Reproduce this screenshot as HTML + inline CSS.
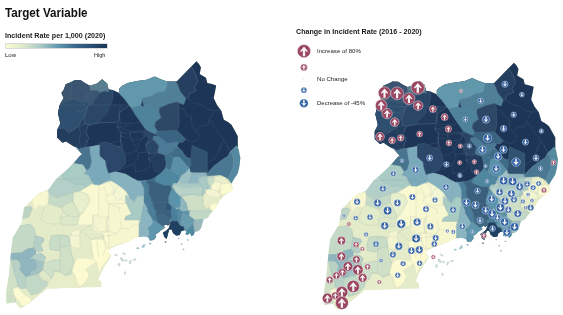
<!DOCTYPE html>
<html><head><meta charset="utf-8"><title>Target Variable</title>
<style>
html,body{margin:0;padding:0;background:#fff;}
body{width:563px;height:315px;overflow:hidden;position:relative;font-family:"Liberation Sans",sans-serif;color:#1a1a1a;}
.t{position:absolute;white-space:nowrap;line-height:1;transform-origin:0 0;}
#h1{left:5.4px;top:6.84px;font-size:12px;font-weight:bold;color:#111;transform:scaleX(0.97);}
#h2{left:5.4px;top:32.47px;font-size:7px;font-weight:bold;color:#1a1a1a;transform:scaleX(1.02);}
#h3{left:296.2px;top:28.47px;font-size:7px;font-weight:bold;color:#1a1a1a;transform:scaleX(1.016);}
.s{font-size:6.2px;color:#222;transform:scaleX(0.98);}
#bar{position:absolute;left:5.7px;top:44.3px;width:101px;height:3.9px;background:linear-gradient(90deg,#fdfcd3 0%,#d9e7c9 18%,#a5c8c4 35%,#5f97ac 52%,#37658a 70%,#1d3557 100%);box-shadow:0 0 0 0.6px #c4c4c4;}
svg{position:absolute;left:0;top:0;}
.ln{fill:none;stroke:#8a9aa6;stroke-opacity:0.38;stroke-width:0.4;stroke-linejoin:round;}
</style></head><body>
<div class="t" id="h1">Target Variable</div>
<div class="t" id="h2">Incident Rate per 1,000 (2020)</div>
<div id="bar"></div>
<div class="t s" style="left:5.4px;top:52.15px;transform:scaleX(0.97)">Low</div>
<div class="t s" style="left:93.6px;top:52.15px;transform:scaleX(0.9)">High</div>
<div class="t" id="h3">Change in Incident Rate (2016 - 2020)</div>
<div class="t s" style="left:317.4px;top:47.85px">Increase of 80%</div>
<div class="t s" style="left:317.4px;top:76.2px">No Change</div>
<div class="t s" style="left:317.4px;top:100.05px;transform:scaleX(0.97)">Decrease of -45%</div>
<svg width="563" height="315" viewBox="0 0 563 315">
<defs>
<clipPath id="cp"><polygon points="57.9,112.9 60.0,104.3 63.6,97.9 61.4,92.9 63.6,90.0 65.7,84.3 71.4,82.1 75.0,80.0 80.7,80.3 85.7,83.6 90.0,85.7 97.1,83.6 102.1,79.3 107.1,83.6 108.6,89.3 112.9,90.0 119.3,92.9 119.3,88.6 122.0,86.0 127.7,82.9 137.0,81.0 146.7,79.8 154.8,76.5 160.0,79.0 167.0,81.6 176.8,81.6 196.4,61.3 199.0,64.0 201.0,67.6 199.7,74.0 203.0,76.0 206.0,77.8 207.3,82.9 212.0,84.0 216.2,85.4 215.0,92.0 213.7,98.1 217.0,105.0 221.3,110.8 223.8,119.7 228.0,122.0 231.5,124.8 235.0,131.0 237.8,136.2 237.8,145.2 240.4,158.0 239.5,166.0 237.8,173.2 234.0,179.0 231.5,183.4 232.7,189.7 228.0,193.0 223.8,196.0 219.0,201.0 218.8,202.5 215.0,209.0 210.7,213.0 207.8,217.6 203.4,219.5 202.2,223.2 200.9,228.2 198.5,230.7 194.7,231.9 193.5,235.0 191.6,236.3 189.8,233.1 187.9,235.0 185.4,234.4 186.6,230.7 184.2,230.0 181.1,231.3 179.8,235.0 176.1,235.6 173.0,233.1 171.7,229.4 169.2,229.4 168.0,233.8 166.7,238.7 164.3,236.9 163.0,232.5 166.1,230.7 168.6,228.4 170.5,223.2 168.0,225.7 166.1,224.4 163.6,225.7 164.9,227.5 163.0,229.4 160.5,230.7 158.7,233.1 155.5,234.4 156.2,236.9 153.7,240.0 150.0,240.6 148.7,237.5 143.7,236.3 140.0,236.9 138.7,236.6 134.4,238.3 129.3,240.9 122.4,243.4 115.6,246.0 110.4,248.6 107.9,251.2 111.3,255.4 108.7,260.6 104.4,266.6 101.0,272.6 98.4,279.5 101.4,282.1 101.4,287.1 47.0,288.4 38.1,296.0 30.5,302.3 20.3,308.7 15.2,302.3 6.4,303.6 6.4,290.9 8.9,275.6 10.2,260.4 11.4,248.3 12.7,238.1 21.6,222.9 24.1,207.6 31.8,200.0 38.1,193.5 48.3,189.7 55.9,179.5 66.0,170.6 73.7,163.0 81.3,154.1 76.2,147.8 69.9,144.0 66.0,141.4 62.2,142.7 57.2,137.6 57.2,130.0 60.3,123.5"/></clipPath>
<g id="map">
<g clip-path="url(#cp)">
<rect x="0" y="55" width="250" height="260" fill="#e4ebc9"/>
<polygon fill="#1d3557" stroke="#1d3557" stroke-width="0.7" stroke-linejoin="round" points="40.0,50.0 250.0,50.0 250.0,146.0 236.4,146.4 230.0,152.1 227.9,156.4 222.1,160.0 213.6,166.4 207.9,172.9 190.0,172.1 191.4,163.6 186.4,157.1 180.7,150.7 176.4,145.0 175.7,148.6 170.0,153.6 165.0,155.7 163.6,164.3 167.1,171.4 163.6,173.6 157.1,176.4 152.9,180.7 145.7,180.0 138.6,181.4 132.9,178.6 125.7,174.3 114.3,171.4 108.6,172.9 108.6,167.1 105.7,159.3 100.0,155.7 100.0,145.0 87.1,147.1 79.3,149.3 75.7,146.4 40.0,146.0"/><polygon class="ln" points="40.0,50.0 250.0,50.0 250.0,146.0 236.4,146.4 230.0,152.1 227.9,156.4 222.1,160.0 213.6,166.4 207.9,172.9 190.0,172.1 191.4,163.6 186.4,157.1 180.7,150.7 176.4,145.0 175.7,148.6 170.0,153.6 165.0,155.7 163.6,164.3 167.1,171.4 163.6,173.6 157.1,176.4 152.9,180.7 145.7,180.0 138.6,181.4 132.9,178.6 125.7,174.3 114.3,171.4 108.6,172.9 108.6,167.1 105.7,159.3 100.0,155.7 100.0,145.0 87.1,147.1 79.3,149.3 75.7,146.4 40.0,146.0"/>
<polygon fill="#5a8fa5" stroke="#5a8fa5" stroke-width="0.7" stroke-linejoin="round" points="165.0,197.0 175.0,197.0 175.0,208.0 165.0,208.0"/><polygon class="ln" points="165.0,197.0 175.0,197.0 175.0,208.0 165.0,208.0"/>
<polygon fill="#3d5670" stroke="#3d5670" stroke-width="0.7" stroke-linejoin="round" points="55.7,78.6 71.4,78.6 71.4,84.3 70.7,100.0 64.3,102.1 58.6,107.1 55.7,98.6"/><polygon class="ln" points="55.7,78.6 71.4,78.6 71.4,84.3 70.7,100.0 64.3,102.1 58.6,107.1 55.7,98.6"/>
<polygon fill="#3a5472" stroke="#3a5472" stroke-width="0.7" stroke-linejoin="round" points="71.4,78.6 80.7,78.6 85.7,82.9 90.0,85.7 90.7,90.7 87.1,94.3 86.4,100.7 80.7,102.1 75.0,99.3 70.7,100.0 71.4,84.3"/><polygon class="ln" points="71.4,78.6 80.7,78.6 85.7,82.9 90.0,85.7 90.7,90.7 87.1,94.3 86.4,100.7 80.7,102.1 75.0,99.3 70.7,100.0 71.4,84.3"/>
<polygon fill="#587d8f" stroke="#587d8f" stroke-width="0.7" stroke-linejoin="round" points="90.0,86.0 97.1,82.9 102.1,78.6 107.4,82.9 108.6,92.1 104.3,91.4 100.0,92.9 97.1,90.7 90.7,90.7"/><polygon class="ln" points="90.0,86.0 97.1,82.9 102.1,78.6 107.4,82.9 108.6,92.1 104.3,91.4 100.0,92.9 97.1,90.7 90.7,90.7"/>
<polygon fill="#3b5673" stroke="#3b5673" stroke-width="0.7" stroke-linejoin="round" points="90.7,90.7 97.1,90.7 100.0,92.9 95.7,98.6 91.4,105.7 88.6,105.0 86.4,100.7 87.1,94.3"/><polygon class="ln" points="90.7,90.7 97.1,90.7 100.0,92.9 95.7,98.6 91.4,105.7 88.6,105.0 86.4,100.7 87.1,94.3"/>
<polygon fill="#2a4768" stroke="#2a4768" stroke-width="0.7" stroke-linejoin="round" points="100.0,92.9 104.3,91.4 108.6,92.1 112.9,90.0 112.9,98.6 110.0,107.1 107.1,115.0 88.6,115.0 90.0,108.6 82.9,107.1 86.4,100.7 88.6,105.0 91.4,105.7 95.7,98.6"/><polygon class="ln" points="100.0,92.9 104.3,91.4 108.6,92.1 112.9,90.0 112.9,98.6 110.0,107.1 107.1,115.0 88.6,115.0 90.0,108.6 82.9,107.1 86.4,100.7 88.6,105.0 91.4,105.7 95.7,98.6"/>
<polygon fill="#2f4f6f" stroke="#2f4f6f" stroke-width="0.7" stroke-linejoin="round" points="55.7,107.1 58.6,107.1 64.3,102.1 70.7,100.0 75.0,99.3 80.7,102.1 86.4,100.7 82.9,107.1 90.0,108.6 88.6,115.0 55.7,115.0"/><polygon class="ln" points="55.7,107.1 58.6,107.1 64.3,102.1 70.7,100.0 75.0,99.3 80.7,102.1 86.4,100.7 82.9,107.1 90.0,108.6 88.6,115.0 55.7,115.0"/>
<polygon fill="#2f4f70" stroke="#2f4f70" stroke-width="0.7" stroke-linejoin="round" points="55.7,105.0 88.6,105.0 84.3,116.4 78.6,126.4 68.6,132.9 64.3,127.9 58.6,128.6 55.7,128.6"/><polygon class="ln" points="55.7,105.0 88.6,105.0 84.3,116.4 78.6,126.4 68.6,132.9 64.3,127.9 58.6,128.6 55.7,128.6"/>
<polygon fill="#2a4768" stroke="#2a4768" stroke-width="0.7" stroke-linejoin="round" points="88.6,105.0 110.0,105.0 107.1,113.6 104.3,115.7 98.6,122.9 88.6,125.0 84.3,123.6 84.3,116.4"/><polygon class="ln" points="88.6,105.0 110.0,105.0 107.1,113.6 104.3,115.7 98.6,122.9 88.6,125.0 84.3,123.6 84.3,116.4"/>
<polygon fill="#233d5f" stroke="#233d5f" stroke-width="0.7" stroke-linejoin="round" points="55.7,128.6 64.3,127.9 68.6,132.9 78.6,126.4 84.3,123.6 88.6,125.0 85.7,132.1 88.6,137.9 85.7,146.4 80.7,147.9 73.6,146.4 66.4,140.7 63.6,142.9 60.7,139.3 55.7,138.6"/><polygon class="ln" points="55.7,128.6 64.3,127.9 68.6,132.9 78.6,126.4 84.3,123.6 88.6,125.0 85.7,132.1 88.6,137.9 85.7,146.4 80.7,147.9 73.6,146.4 66.4,140.7 63.6,142.9 60.7,139.3 55.7,138.6"/>
<polygon fill="#223b5d" stroke="#223b5d" stroke-width="0.7" stroke-linejoin="round" points="110.0,105.0 130.0,105.0 120.0,112.1 118.6,122.1 98.6,122.9 104.3,115.7 107.1,113.6"/><polygon class="ln" points="110.0,105.0 130.0,105.0 120.0,112.1 118.6,122.1 98.6,122.9 104.3,115.7 107.1,113.6"/>
<polygon fill="#6298ab" stroke="#6298ab" stroke-width="0.7" stroke-linejoin="round" points="119.3,88.6 118.0,84.0 127.9,80.0 142.9,78.0 150.0,76.0 155.0,73.0 160.7,78.0 167.9,82.1 167.1,87.9 165.0,91.4 157.1,92.9 151.4,96.4 142.1,98.6 140.7,105.7 131.4,107.9 124.3,98.6 119.0,93.0"/><polygon class="ln" points="119.3,88.6 118.0,84.0 127.9,80.0 142.9,78.0 150.0,76.0 155.0,73.0 160.7,78.0 167.9,82.1 167.1,87.9 165.0,91.4 157.1,92.9 151.4,96.4 142.1,98.6 140.7,105.7 131.4,107.9 124.3,98.6 119.0,93.0"/>
<polygon fill="#4f8098" stroke="#4f8098" stroke-width="0.7" stroke-linejoin="round" points="167.9,80.0 175.7,80.0 180.0,91.4 185.7,98.6 183.6,104.3 177.1,102.1 168.6,104.3 160.0,107.9 159.3,111.4 151.4,104.3 144.3,107.1 142.1,98.6 151.4,96.4 157.1,92.9 165.0,91.4 167.1,87.9"/><polygon class="ln" points="167.9,80.0 175.7,80.0 180.0,91.4 185.7,98.6 183.6,104.3 177.1,102.1 168.6,104.3 160.0,107.9 159.3,111.4 151.4,104.3 144.3,107.1 142.1,98.6 151.4,96.4 157.1,92.9 165.0,91.4 167.1,87.9"/>
<polygon fill="#4f829b" stroke="#4f829b" stroke-width="0.7" stroke-linejoin="round" points="131.4,107.9 140.7,105.7 144.3,107.1 151.4,104.3 159.3,111.4 161.4,117.9 155.7,122.1 155.0,126.4 157.9,131.4 155.0,134.3 151.4,132.9 145.7,129.3 140.7,122.1 135.7,115.0"/><polygon class="ln" points="131.4,107.9 140.7,105.7 144.3,107.1 151.4,104.3 159.3,111.4 161.4,117.9 155.7,122.1 155.0,126.4 157.9,131.4 155.0,134.3 151.4,132.9 145.7,129.3 140.7,122.1 135.7,115.0"/>
<polygon fill="#2d4866" stroke="#2d4866" stroke-width="0.7" stroke-linejoin="round" points="160.0,107.9 168.6,104.3 177.1,102.1 178.6,105.0 179.3,123.6 177.1,130.7 157.9,131.4 155.0,126.4 155.7,122.1 161.4,117.9 159.3,111.4"/><polygon class="ln" points="160.0,107.9 168.6,104.3 177.1,102.1 178.6,105.0 179.3,123.6 177.1,130.7 157.9,131.4 155.0,126.4 155.7,122.1 161.4,117.9 159.3,111.4"/>
<polygon fill="#3a6482" stroke="#3a6482" stroke-width="0.7" stroke-linejoin="round" points="157.9,131.4 177.1,130.7 185.7,139.3 182.9,142.1 172.9,142.9 167.1,143.6 158.6,136.4 155.0,134.3"/><polygon class="ln" points="157.9,131.4 177.1,130.7 185.7,139.3 182.9,142.1 172.9,142.9 167.1,143.6 158.6,136.4 155.0,134.3"/>
<polygon fill="#2a4666" stroke="#2a4666" stroke-width="0.7" stroke-linejoin="round" points="145.0,130.0 151.4,132.9 155.0,134.3 152.9,142.1 157.1,147.9 159.3,152.1 156.4,154.3 151.4,147.9 145.0,145.0 149.3,139.3 145.0,133.6"/><polygon class="ln" points="145.0,130.0 151.4,132.9 155.0,134.3 152.9,142.1 157.1,147.9 159.3,152.1 156.4,154.3 151.4,147.9 145.0,145.0 149.3,139.3 145.0,133.6"/>
<polygon fill="#4a7a96" stroke="#4a7a96" stroke-width="0.7" stroke-linejoin="round" points="153.6,136.4 158.6,136.4 167.1,143.6 172.9,142.9 177.1,142.1 178.6,142.9 176.4,147.1 172.9,151.4 168.6,153.6 165.0,155.7 160.0,154.3 157.1,152.9 157.1,147.1 152.9,142.1"/><polygon class="ln" points="153.6,136.4 158.6,136.4 167.1,143.6 172.9,142.9 177.1,142.1 178.6,142.9 176.4,147.1 172.9,151.4 168.6,153.6 165.0,155.7 160.0,154.3 157.1,152.9 157.1,147.1 152.9,142.1"/>
<polygon fill="#243f60" stroke="#243f60" stroke-width="0.7" stroke-linejoin="round" points="176.4,81.9 191.4,67.1 195.7,74.3 197.9,81.4 194.3,87.1 196.4,90.7 189.3,93.6 187.9,98.6 183.6,94.3 180.7,88.6"/><polygon class="ln" points="176.4,81.9 191.4,67.1 195.7,74.3 197.9,81.4 194.3,87.1 196.4,90.7 189.3,93.6 187.9,98.6 183.6,94.3 180.7,88.6"/>
<polygon fill="#2a4666" stroke="#2a4666" stroke-width="0.7" stroke-linejoin="round" points="145.7,144.3 153.6,140.0 158.6,145.7 157.1,152.9 148.6,154.3"/><polygon class="ln" points="145.7,144.3 153.6,140.0 158.6,145.7 157.1,152.9 148.6,154.3"/>
<polygon fill="#233d5f" stroke="#233d5f" stroke-width="0.7" stroke-linejoin="round" points="157.1,152.9 165.0,155.7 166.4,162.9 165.7,167.9 161.4,172.9 154.3,170.7 152.9,162.9 148.6,158.6"/><polygon class="ln" points="157.1,152.9 165.0,155.7 166.4,162.9 165.7,167.9 161.4,172.9 154.3,170.7 152.9,162.9 148.6,158.6"/>
<polygon fill="#3f6c88" stroke="#3f6c88" stroke-width="0.7" stroke-linejoin="round" points="172.9,151.4 176.4,147.1 181.4,150.0 185.7,157.1 190.7,158.6 191.4,164.3 189.3,168.6 184.3,162.9 178.6,157.1 173.6,157.9 168.6,153.6"/><polygon class="ln" points="172.9,151.4 176.4,147.1 181.4,150.0 185.7,157.1 190.7,158.6 191.4,164.3 189.3,168.6 184.3,162.9 178.6,157.1 173.6,157.9 168.6,153.6"/>
<polygon fill="#41708d" stroke="#41708d" stroke-width="0.7" stroke-linejoin="round" points="165.0,155.7 168.6,153.6 173.6,157.9 172.1,165.7 170.7,170.7 165.7,167.9 166.4,162.9"/><polygon class="ln" points="165.0,155.7 168.6,153.6 173.6,157.9 172.1,165.7 170.7,170.7 165.7,167.9 166.4,162.9"/>
<polygon fill="#5a90a8" stroke="#5a90a8" stroke-width="0.7" stroke-linejoin="round" points="173.6,157.9 178.6,157.1 184.3,162.9 189.3,168.6 185.7,172.9 181.4,175.7 175.7,174.3 170.7,170.7 172.1,165.7"/><polygon class="ln" points="173.6,157.9 178.6,157.1 184.3,162.9 189.3,168.6 185.7,172.9 181.4,175.7 175.7,174.3 170.7,170.7 172.1,165.7"/>
<polygon fill="#2f5370" stroke="#2f5370" stroke-width="0.7" stroke-linejoin="round" points="192.1,145.7 207.1,152.1 207.1,172.9 190.0,172.1 189.3,168.6 191.4,164.3 190.7,158.6 191.4,155.7"/><polygon class="ln" points="192.1,145.7 207.1,152.1 207.1,172.9 190.0,172.1 189.3,168.6 191.4,164.3 190.7,158.6 191.4,155.7"/>
<polygon fill="#4f86a0" stroke="#4f86a0" stroke-width="0.7" stroke-linejoin="round" points="155.7,177.1 161.4,172.9 165.7,167.9 170.7,170.7 175.7,174.3 181.4,175.7 178.6,181.4 174.3,186.4 158.6,186.4 154.3,181.4"/><polygon class="ln" points="155.7,177.1 161.4,172.9 165.7,167.9 170.7,170.7 175.7,174.3 181.4,175.7 178.6,181.4 174.3,186.4 158.6,186.4 154.3,181.4"/>
<polygon fill="#3a6a88" stroke="#3a6a88" stroke-width="0.7" stroke-linejoin="round" points="145.7,181.4 151.4,179.3 155.7,177.1 154.3,181.4 158.6,186.4 147.1,186.4"/><polygon class="ln" points="145.7,181.4 151.4,179.3 155.7,177.1 154.3,181.4 158.6,186.4 147.1,186.4"/>
<polygon fill="#4f86a0" stroke="#4f86a0" stroke-width="0.7" stroke-linejoin="round" points="138.6,180.7 145.7,181.4 147.1,186.4 138.6,186.4"/><polygon class="ln" points="138.6,180.7 145.7,181.4 147.1,186.4 138.6,186.4"/>
<polygon fill="#9dc0c4" stroke="#9dc0c4" stroke-width="0.7" stroke-linejoin="round" points="181.4,175.7 185.7,172.9 189.3,168.6 190.0,172.1 192.1,172.9 190.0,180.0 187.1,185.7 182.9,185.7 178.6,181.4"/><polygon class="ln" points="181.4,175.7 185.7,172.9 189.3,168.6 190.0,172.1 192.1,172.9 190.0,180.0 187.1,185.7 182.9,185.7 178.6,181.4"/>
<polygon fill="#8db5bf" stroke="#8db5bf" stroke-width="0.7" stroke-linejoin="round" points="192.1,172.9 207.1,172.9 208.6,176.4 201.4,177.1 198.6,182.9 197.1,185.7 187.1,185.7 190.0,180.0"/><polygon class="ln" points="192.1,172.9 207.1,172.9 208.6,176.4 201.4,177.1 198.6,182.9 197.1,185.7 187.1,185.7 190.0,180.0"/>
<polygon fill="#a9c9c4" stroke="#a9c9c4" stroke-width="0.7" stroke-linejoin="round" points="201.4,177.1 208.6,176.4 208.6,185.7 197.1,185.7 198.6,182.9"/><polygon class="ln" points="201.4,177.1 208.6,176.4 208.6,185.7 197.1,185.7 198.6,182.9"/>
<polygon fill="#4a7892" stroke="#4a7892" stroke-width="0.7" stroke-linejoin="round" points="206.4,172.9 207.9,172.9 213.6,166.4 222.1,160.0 227.9,156.4 230.0,152.1 232.1,153.6 233.6,159.3 232.9,167.9 229.3,175.7 227.9,179.3 219.3,175.7 207.9,176.4"/><polygon class="ln" points="206.4,172.9 207.9,172.9 213.6,166.4 222.1,160.0 227.9,156.4 230.0,152.1 232.1,153.6 233.6,159.3 232.9,167.9 229.3,175.7 227.9,179.3 219.3,175.7 207.9,176.4"/>
<polygon fill="#5589a0" stroke="#5589a0" stroke-width="0.7" stroke-linejoin="round" points="236.4,145.7 242.1,155.0 242.1,163.6 239.3,172.9 235.0,180.7 231.4,183.6 227.9,179.3 229.3,175.7 232.9,167.9 233.6,159.3 232.1,153.6 230.0,152.1"/><polygon class="ln" points="236.4,145.7 242.1,155.0 242.1,163.6 239.3,172.9 235.0,180.7 231.4,183.6 227.9,179.3 229.3,175.7 232.9,167.9 233.6,159.3 232.1,153.6 230.0,152.1"/>
<polygon fill="#cfe0c8" stroke="#cfe0c8" stroke-width="0.7" stroke-linejoin="round" points="207.9,176.4 219.3,175.7 216.4,180.7 210.7,185.0 207.9,182.1"/><polygon class="ln" points="207.9,176.4 219.3,175.7 216.4,180.7 210.7,185.0 207.9,182.1"/>
<polygon fill="#e8eec8" stroke="#e8eec8" stroke-width="0.7" stroke-linejoin="round" points="219.3,175.7 227.9,179.3 231.4,184.3 226.4,186.4 219.3,187.9 216.4,180.7"/><polygon class="ln" points="219.3,175.7 227.9,179.3 231.4,184.3 226.4,186.4 219.3,187.9 216.4,180.7"/>
<polygon fill="#f8f8d0" stroke="#f8f8d0" stroke-width="0.7" stroke-linejoin="round" points="210.7,185.0 216.4,180.7 219.3,187.9 215.0,190.7 210.7,190.7"/><polygon class="ln" points="210.7,185.0 216.4,180.7 219.3,187.9 215.0,190.7 210.7,190.7"/>
<polygon fill="#a9c9c4" stroke="#a9c9c4" stroke-width="0.7" stroke-linejoin="round" points="200.7,177.1 207.9,176.4 207.9,182.1 210.7,185.0 210.7,190.7 196.4,190.7 197.9,183.6"/><polygon class="ln" points="200.7,177.1 207.9,176.4 207.9,182.1 210.7,185.0 210.7,190.7 196.4,190.7 197.9,183.6"/>
<polygon fill="#fbfad0" stroke="#fbfad0" stroke-width="0.7" stroke-linejoin="round" points="210.7,183.6 236.4,183.6 236.4,189.3 227.9,192.1 222.1,194.3 220.0,195.7 219.3,190.7 213.6,189.3"/><polygon class="ln" points="210.7,183.6 236.4,183.6 236.4,189.3 227.9,192.1 222.1,194.3 220.0,195.7 219.3,190.7 213.6,189.3"/>
<polygon fill="#e6edc8" stroke="#e6edc8" stroke-width="0.7" stroke-linejoin="round" points="205.0,190.7 213.6,189.3 219.3,190.7 220.0,195.7 222.1,198.6 220.7,203.6 210.7,203.6 209.3,207.9 206.4,209.3 202.9,205.0 202.9,195.0"/><polygon class="ln" points="205.0,190.7 213.6,189.3 219.3,190.7 220.0,195.7 222.1,198.6 220.7,203.6 210.7,203.6 209.3,207.9 206.4,209.3 202.9,205.0 202.9,195.0"/>
<polygon fill="#fbfad0" stroke="#fbfad0" stroke-width="0.7" stroke-linejoin="round" points="210.7,203.6 216.4,202.9 220.7,203.6 217.9,208.6 211.4,212.9 209.3,207.9"/><polygon class="ln" points="210.7,203.6 216.4,202.9 220.7,203.6 217.9,208.6 211.4,212.9 209.3,207.9"/>
<polygon fill="#cfdfc6" stroke="#cfdfc6" stroke-width="0.7" stroke-linejoin="round" points="180.7,195.7 190.7,194.3 202.9,195.0 202.9,205.0 206.4,209.3 209.3,207.9 211.4,212.9 209.3,219.3 202.9,221.4 195.7,219.3 192.1,213.6 187.9,212.1 186.4,203.6"/><polygon class="ln" points="180.7,195.7 190.7,194.3 202.9,195.0 202.9,205.0 206.4,209.3 209.3,207.9 211.4,212.9 209.3,219.3 202.9,221.4 195.7,219.3 192.1,213.6 187.9,212.1 186.4,203.6"/>
<polygon fill="#a9c9c4" stroke="#a9c9c4" stroke-width="0.7" stroke-linejoin="round" points="172.1,186.4 173.6,183.6 210.7,183.6 213.6,189.3 205.0,190.7 202.9,195.0 190.7,194.3 180.7,195.7 177.1,192.1"/><polygon class="ln" points="172.1,186.4 173.6,183.6 210.7,183.6 213.6,189.3 205.0,190.7 202.9,195.0 190.7,194.3 180.7,195.7 177.1,192.1"/>
<polygon fill="#8fb6be" stroke="#8fb6be" stroke-width="0.7" stroke-linejoin="round" points="177.9,200.7 180.7,195.7 186.4,203.6 187.9,212.1 183.6,213.6 177.9,207.9"/><polygon class="ln" points="177.9,200.7 180.7,195.7 186.4,203.6 187.9,212.1 183.6,213.6 177.9,207.9"/>
<polygon fill="#5e93a8" stroke="#5e93a8" stroke-width="0.7" stroke-linejoin="round" points="169.3,193.6 172.1,186.4 177.1,192.1 180.7,195.7 177.9,200.7 177.9,207.9 172.1,206.4 169.3,199.3"/><polygon class="ln" points="169.3,193.6 172.1,186.4 177.1,192.1 180.7,195.7 177.9,200.7 177.9,207.9 172.1,206.4 169.3,199.3"/>
<polygon fill="#5a8fa5" stroke="#5a8fa5" stroke-width="0.7" stroke-linejoin="round" points="177.9,207.9 183.6,213.6 187.9,212.1 192.1,213.6 195.7,219.3 193.6,223.6 189.3,232.1 182.1,232.1 179.3,220.7"/><polygon class="ln" points="177.9,207.9 183.6,213.6 187.9,212.1 192.1,213.6 195.7,219.3 193.6,223.6 189.3,232.1 182.1,232.1 179.3,220.7"/>
<polygon fill="#9ab8bc" stroke="#9ab8bc" stroke-width="0.7" stroke-linejoin="round" points="195.7,219.3 202.9,221.4 205.0,226.4 203.6,242.1 190.7,242.1 193.6,223.6"/><polygon class="ln" points="195.7,219.3 202.9,221.4 205.0,226.4 203.6,242.1 190.7,242.1 193.6,223.6"/>
<polygon fill="#86b2c0" stroke="#86b2c0" stroke-width="0.7" stroke-linejoin="round" points="100.0,170.0 107.1,170.0 108.6,172.9 114.3,171.4 125.7,174.3 132.9,178.6 138.6,181.4 141.4,182.1 144.3,188.6 142.9,197.1 138.6,195.7 134.3,202.1 128.6,197.1 125.7,191.4 118.6,185.7 111.4,181.4 107.1,182.1 100.0,185.7"/><polygon class="ln" points="100.0,170.0 107.1,170.0 108.6,172.9 114.3,171.4 125.7,174.3 132.9,178.6 138.6,181.4 141.4,182.1 144.3,188.6 142.9,197.1 138.6,195.7 134.3,202.1 128.6,197.1 125.7,191.4 118.6,185.7 111.4,181.4 107.1,182.1 100.0,185.7"/>
<polygon fill="#a8cbc9" stroke="#a8cbc9" stroke-width="0.7" stroke-linejoin="round" points="128.6,197.1 134.3,202.1 138.6,195.7 142.9,197.1 143.6,207.1 147.1,215.0 131.4,215.0 131.4,212.9 125.7,202.9"/><polygon class="ln" points="128.6,197.1 134.3,202.1 138.6,195.7 142.9,197.1 143.6,207.1 147.1,215.0 131.4,215.0 131.4,212.9 125.7,202.9"/>
<polygon fill="#4a7d9a" stroke="#4a7d9a" stroke-width="0.7" stroke-linejoin="round" points="141.4,182.1 145.7,180.7 149.3,185.7 148.6,192.9 151.4,198.6 150.0,205.7 154.3,215.0 147.1,215.0 143.6,207.1 144.3,188.6"/><polygon class="ln" points="141.4,182.1 145.7,180.7 149.3,185.7 148.6,192.9 151.4,198.6 150.0,205.7 154.3,215.0 147.1,215.0 143.6,207.1 144.3,188.6"/>
<polygon fill="#3a607d" stroke="#3a607d" stroke-width="0.7" stroke-linejoin="round" points="145.7,180.7 152.9,180.7 157.1,182.9 164.3,185.7 170.7,185.7 171.4,190.0 168.6,198.6 167.1,207.1 162.9,215.0 154.3,215.0 150.0,205.7 151.4,198.6 148.6,192.9 149.3,185.7"/><polygon class="ln" points="145.7,180.7 152.9,180.7 157.1,182.9 164.3,185.7 170.7,185.7 171.4,190.0 168.6,198.6 167.1,207.1 162.9,215.0 154.3,215.0 150.0,205.7 151.4,198.6 148.6,192.9 149.3,185.7"/>
<polygon fill="#5a93ac" stroke="#5a93ac" stroke-width="0.7" stroke-linejoin="round" points="171.4,190.0 175.7,188.6 180.0,191.4 180.0,207.1 175.7,205.7 170.0,201.4 168.6,198.6"/><polygon class="ln" points="171.4,190.0 175.7,188.6 180.0,191.4 180.0,207.1 175.7,205.7 170.0,201.4 168.6,198.6"/>
<polygon fill="#b4cfc8" stroke="#b4cfc8" stroke-width="0.7" stroke-linejoin="round" points="128.6,202.1 142.9,202.1 144.3,213.6 140.0,219.3 124.3,219.3 131.4,213.6"/><polygon class="ln" points="128.6,202.1 142.9,202.1 144.3,213.6 140.0,219.3 124.3,219.3 131.4,213.6"/>
<polygon fill="#8ab5c0" stroke="#8ab5c0" stroke-width="0.7" stroke-linejoin="round" points="142.1,202.1 145.7,205.0 150.0,215.0 152.9,220.7 151.4,226.4 148.6,229.3 150.0,242.1 144.3,240.7 138.6,237.9 140.0,230.7 140.0,219.3 144.3,213.6"/><polygon class="ln" points="142.1,202.1 145.7,205.0 150.0,215.0 152.9,220.7 151.4,226.4 148.6,229.3 150.0,242.1 144.3,240.7 138.6,237.9 140.0,230.7 140.0,219.3 144.3,213.6"/>
<polygon fill="#4a7d9a" stroke="#4a7d9a" stroke-width="0.7" stroke-linejoin="round" points="145.7,202.1 152.9,202.1 155.7,213.6 157.1,220.7 152.9,220.7 150.0,215.0"/><polygon class="ln" points="145.7,202.1 152.9,202.1 155.7,213.6 157.1,220.7 152.9,220.7 150.0,215.0"/>
<polygon fill="#5a8fa8" stroke="#5a8fa8" stroke-width="0.7" stroke-linejoin="round" points="152.9,220.7 157.1,220.7 162.9,225.0 165.0,225.0 160.0,230.7 157.1,233.6 155.7,242.1 150.0,242.1 148.6,229.3 151.4,226.4"/><polygon class="ln" points="152.9,220.7 157.1,220.7 162.9,225.0 165.0,225.0 160.0,230.7 157.1,233.6 155.7,242.1 150.0,242.1 148.6,229.3 151.4,226.4"/>
<polygon fill="#3a607d" stroke="#3a607d" stroke-width="0.7" stroke-linejoin="round" points="152.9,202.1 167.1,202.1 164.3,213.6 155.7,215.0 155.7,213.6"/><polygon class="ln" points="152.9,202.1 167.1,202.1 164.3,213.6 155.7,215.0 155.7,213.6"/>
<polygon fill="#3f6884" stroke="#3f6884" stroke-width="0.7" stroke-linejoin="round" points="155.7,215.0 164.3,213.6 168.6,216.4 170.0,223.6 165.0,225.0 162.9,225.0 157.1,220.7"/><polygon class="ln" points="155.7,215.0 164.3,213.6 168.6,216.4 170.0,223.6 165.0,225.0 162.9,225.0 157.1,220.7"/>
<polygon fill="#2f5575" stroke="#2f5575" stroke-width="0.7" stroke-linejoin="round" points="167.1,202.1 171.4,206.4 172.9,216.4 171.4,220.7 168.6,216.4 164.3,213.6"/><polygon class="ln" points="167.1,202.1 171.4,206.4 172.9,216.4 171.4,220.7 168.6,216.4 164.3,213.6"/>
<polygon fill="#4a7f9c" stroke="#4a7f9c" stroke-width="0.7" stroke-linejoin="round" points="171.4,206.4 177.1,209.3 178.6,219.3 177.1,221.4 171.4,220.7 172.9,216.4"/><polygon class="ln" points="171.4,206.4 177.1,209.3 178.6,219.3 177.1,221.4 171.4,220.7 172.9,216.4"/>
<polygon fill="#4d86a2" stroke="#4d86a2" stroke-width="0.7" stroke-linejoin="round" points="177.1,209.3 182.9,212.1 181.4,226.4 177.1,221.4 178.6,219.3"/><polygon class="ln" points="177.1,209.3 182.9,212.1 181.4,226.4 177.1,221.4 178.6,219.3"/>
<polygon fill="#5a8fa5" stroke="#5a8fa5" stroke-width="0.7" stroke-linejoin="round" points="182.9,212.1 190.0,210.7 191.4,230.7 184.3,229.3 181.4,226.4"/><polygon class="ln" points="182.9,212.1 190.0,210.7 191.4,230.7 184.3,229.3 181.4,226.4"/>
<polygon fill="#1f4060" stroke="#1f4060" stroke-width="0.7" stroke-linejoin="round" points="170.0,223.6 171.4,220.7 177.1,221.4 181.4,226.4 184.3,229.3 182.9,242.1 161.4,242.1 162.9,232.1 165.0,225.0"/><polygon class="ln" points="170.0,223.6 171.4,220.7 177.1,221.4 181.4,226.4 184.3,229.3 182.9,242.1 161.4,242.1 162.9,232.1 165.0,225.0"/>
<polygon fill="#48748f" stroke="#48748f" stroke-width="0.7" stroke-linejoin="round" points="79.3,149.3 87.1,147.1 90.0,147.1 90.7,154.3 92.1,161.4 90.0,168.6 86.4,170.7 82.9,165.0 74.3,163.6 70.0,163.0 77.1,157.0 82.5,154.5 75.0,146.5"/><polygon class="ln" points="79.3,149.3 87.1,147.1 90.0,147.1 90.7,154.3 92.1,161.4 90.0,168.6 86.4,170.7 82.9,165.0 74.3,163.6 70.0,163.0 77.1,157.0 82.5,154.5 75.0,146.5"/>
<polygon fill="#7aa9ba" stroke="#7aa9ba" stroke-width="0.7" stroke-linejoin="round" points="90.0,147.1 100.0,145.0 100.0,155.7 105.7,159.3 108.6,167.1 110.0,168.6 110.0,178.6 104.3,181.4 97.1,182.9 91.4,181.4 88.6,175.7 83.6,173.6 86.4,170.7 90.0,168.6 92.1,161.4 90.7,154.3"/><polygon class="ln" points="90.0,147.1 100.0,145.0 100.0,155.7 105.7,159.3 108.6,167.1 110.0,168.6 110.0,178.6 104.3,181.4 97.1,182.9 91.4,181.4 88.6,175.7 83.6,173.6 86.4,170.7 90.0,168.6 92.1,161.4 90.7,154.3"/>
<polygon fill="#2a4668" stroke="#2a4668" stroke-width="0.7" stroke-linejoin="round" points="100.0,142.9 107.1,142.1 114.3,145.7 121.4,147.1 125.0,154.3 125.7,162.9 120.0,169.3 114.3,171.4 108.6,172.9 106.4,165.7 105.7,160.7 100.0,155.7"/><polygon class="ln" points="100.0,142.9 107.1,142.1 114.3,145.7 121.4,147.1 125.0,154.3 125.7,162.9 120.0,169.3 114.3,171.4 108.6,172.9 106.4,165.7 105.7,160.7 100.0,155.7"/>
<polygon fill="#a8cbc4" stroke="#a8cbc4" stroke-width="0.7" stroke-linejoin="round" points="70.0,161.4 74.3,163.6 82.9,165.0 86.4,170.7 83.6,173.6 88.6,175.7 91.4,181.4 92.9,185.0 78.6,185.0 77.1,180.0 72.9,181.4 67.1,182.9 65.7,178.6 58.6,175.0 64.3,168.6"/><polygon class="ln" points="70.0,161.4 74.3,163.6 82.9,165.0 86.4,170.7 83.6,173.6 88.6,175.7 91.4,181.4 92.9,185.0 78.6,185.0 77.1,180.0 72.9,181.4 67.1,182.9 65.7,178.6 58.6,175.0 64.3,168.6"/>
<polygon fill="#bcd5c8" stroke="#bcd5c8" stroke-width="0.7" stroke-linejoin="round" points="58.6,175.0 65.7,178.6 67.1,182.9 67.1,185.0 50.0,185.0 52.9,181.4"/><polygon class="ln" points="58.6,175.0 65.7,178.6 67.1,182.9 67.1,185.0 50.0,185.0 52.9,181.4"/>
<polygon fill="#b4cfc8" stroke="#b4cfc8" stroke-width="0.7" stroke-linejoin="round" points="45.7,190.0 54.3,178.6 90.0,178.6 91.4,184.3 85.7,187.9 80.0,191.4 72.9,192.9 65.7,195.0 57.1,197.9 48.6,193.6"/><polygon class="ln" points="45.7,190.0 54.3,178.6 90.0,178.6 91.4,184.3 85.7,187.9 80.0,191.4 72.9,192.9 65.7,195.0 57.1,197.9 48.6,193.6"/>
<polygon fill="#a8cbc4" stroke="#a8cbc4" stroke-width="0.7" stroke-linejoin="round" points="62.9,178.6 90.0,178.6 91.4,184.3 85.7,187.9 82.9,184.3 74.3,184.3 68.6,181.4"/><polygon class="ln" points="62.9,178.6 90.0,178.6 91.4,184.3 85.7,187.9 82.9,184.3 74.3,184.3 68.6,181.4"/>
<polygon fill="#7aa9ba" stroke="#7aa9ba" stroke-width="0.7" stroke-linejoin="round" points="91.4,178.6 101.4,178.6 101.4,185.7 94.3,185.0"/><polygon class="ln" points="91.4,178.6 101.4,178.6 101.4,185.7 94.3,185.0"/>
<polygon fill="#fafad2" stroke="#fafad2" stroke-width="0.7" stroke-linejoin="round" points="85.7,187.9 91.4,184.3 94.3,185.0 101.4,185.7 101.4,225.0 77.1,225.0 78.6,218.6 82.9,212.9 87.1,205.7 90.0,200.0 87.1,194.3 81.4,192.1 80.0,191.4"/><polygon class="ln" points="85.7,187.9 91.4,184.3 94.3,185.0 101.4,185.7 101.4,225.0 77.1,225.0 78.6,218.6 82.9,212.9 87.1,205.7 90.0,200.0 87.1,194.3 81.4,192.1 80.0,191.4"/>
<polygon fill="#e8efcc" stroke="#e8efcc" stroke-width="0.7" stroke-linejoin="round" points="72.9,192.9 80.0,191.4 81.4,192.1 87.1,194.3 90.0,200.0 87.1,205.7 82.9,212.9 78.6,212.9 72.9,201.4"/><polygon class="ln" points="72.9,192.9 80.0,191.4 81.4,192.1 87.1,194.3 90.0,200.0 87.1,205.7 82.9,212.9 78.6,212.9 72.9,201.4"/>
<polygon fill="#c5dac6" stroke="#c5dac6" stroke-width="0.7" stroke-linejoin="round" points="48.6,193.6 57.1,197.9 65.7,195.0 72.9,192.9 72.9,201.4 67.1,203.6 61.4,207.9 54.3,205.7 47.9,203.6"/><polygon class="ln" points="48.6,193.6 57.1,197.9 65.7,195.0 72.9,192.9 72.9,201.4 67.1,203.6 61.4,207.9 54.3,205.7 47.9,203.6"/>
<polygon fill="#d9e6c8" stroke="#d9e6c8" stroke-width="0.7" stroke-linejoin="round" points="61.4,207.9 67.1,203.6 72.9,201.4 78.6,212.9 79.3,215.7 74.3,217.1 67.1,215.7 62.9,211.4"/><polygon class="ln" points="61.4,207.9 67.1,203.6 72.9,201.4 78.6,212.9 79.3,215.7 74.3,217.1 67.1,215.7 62.9,211.4"/>
<polygon fill="#e3ecc9" stroke="#e3ecc9" stroke-width="0.7" stroke-linejoin="round" points="47.9,203.6 54.3,205.7 61.4,207.9 62.9,211.4 60.7,217.9 61.4,222.9 55.7,224.3 47.1,222.9 41.4,220.0 42.1,212.9 45.0,206.4"/><polygon class="ln" points="47.9,203.6 54.3,205.7 61.4,207.9 62.9,211.4 60.7,217.9 61.4,222.9 55.7,224.3 47.1,222.9 41.4,220.0 42.1,212.9 45.0,206.4"/>
<polygon fill="#f8f8d0" stroke="#f8f8d0" stroke-width="0.7" stroke-linejoin="round" points="34.3,193.6 42.1,192.1 47.1,190.0 48.6,193.6 47.9,203.6 45.0,206.4 38.6,205.7 34.3,210.7 32.1,201.4"/><polygon class="ln" points="34.3,193.6 42.1,192.1 47.1,190.0 48.6,193.6 47.9,203.6 45.0,206.4 38.6,205.7 34.3,210.7 32.1,201.4"/>
<polygon fill="#bdd4c4" stroke="#bdd4c4" stroke-width="0.7" stroke-linejoin="round" points="22.9,207.9 30.7,206.4 32.1,208.6 28.6,217.1 21.4,218.6 21.4,212.9"/><polygon class="ln" points="22.9,207.9 30.7,206.4 32.1,208.6 28.6,217.1 21.4,218.6 21.4,212.9"/>
<polygon fill="#dce8c8" stroke="#dce8c8" stroke-width="0.7" stroke-linejoin="round" points="60.7,217.9 67.1,215.7 74.3,217.1 79.3,215.7 77.1,225.0 61.4,225.0"/><polygon class="ln" points="60.7,217.9 67.1,215.7 74.3,217.1 79.3,215.7 77.1,225.0 61.4,225.0"/>
<polygon fill="#c5dac6" stroke="#c5dac6" stroke-width="0.7" stroke-linejoin="round" points="15.7,227.1 21.4,225.7 30.0,224.3 34.3,228.6 35.7,235.7 34.3,242.9 33.6,247.9 27.1,249.3 21.4,252.9 10.0,253.6 10.7,244.3 11.4,238.6 15.0,232.9"/><polygon class="ln" points="15.7,227.1 21.4,225.7 30.0,224.3 34.3,228.6 35.7,235.7 34.3,242.9 33.6,247.9 27.1,249.3 21.4,252.9 10.0,253.6 10.7,244.3 11.4,238.6 15.0,232.9"/>
<polygon fill="#b4d0c6" stroke="#b4d0c6" stroke-width="0.7" stroke-linejoin="round" points="35.7,235.7 42.9,237.9 44.3,240.0 40.7,245.0 42.9,250.7 38.6,252.1 33.6,247.9 34.3,242.9"/><polygon class="ln" points="35.7,235.7 42.9,237.9 44.3,240.0 40.7,245.0 42.9,250.7 38.6,252.1 33.6,247.9 34.3,242.9"/>
<polygon fill="#c9dcc6" stroke="#c9dcc6" stroke-width="0.7" stroke-linejoin="round" points="51.4,235.7 57.1,235.0 67.1,235.7 70.0,240.0 67.1,244.3 64.3,248.6 57.1,250.7 50.0,249.3 49.3,244.3"/><polygon class="ln" points="51.4,235.7 57.1,235.0 67.1,235.7 70.0,240.0 67.1,244.3 64.3,248.6 57.1,250.7 50.0,249.3 49.3,244.3"/>
<polygon fill="#8fb6be" stroke="#8fb6be" stroke-width="0.7" stroke-linejoin="round" points="9.3,253.6 21.4,252.9 27.1,249.3 33.6,247.9 35.7,250.7 35.7,254.3 32.1,257.1 25.7,260.0 21.4,262.9 15.7,260.0 9.3,259.3"/><polygon class="ln" points="9.3,253.6 21.4,252.9 27.1,249.3 33.6,247.9 35.7,250.7 35.7,254.3 32.1,257.1 25.7,260.0 21.4,262.9 15.7,260.0 9.3,259.3"/>
<polygon fill="#b4d0c6" stroke="#b4d0c6" stroke-width="0.7" stroke-linejoin="round" points="32.1,257.1 35.7,254.3 41.4,253.6 45.7,257.1 44.3,261.4 38.6,262.9 34.3,262.1"/><polygon class="ln" points="32.1,257.1 35.7,254.3 41.4,253.6 45.7,257.1 44.3,261.4 38.6,262.9 34.3,262.1"/>
<polygon fill="#f3f5d0" stroke="#f3f5d0" stroke-width="0.7" stroke-linejoin="round" points="71.4,231.4 80.0,228.6 80.0,248.6 71.4,247.1 70.0,240.0"/><polygon class="ln" points="71.4,231.4 80.0,228.6 80.0,248.6 71.4,247.1 70.0,240.0"/>
<polygon fill="#cfe0c6" stroke="#cfe0c6" stroke-width="0.7" stroke-linejoin="round" points="8.6,260.0 11.4,260.0 12.9,265.7 14.3,272.9 17.1,280.0 17.9,285.7 12.9,288.6 13.6,293.6 15.7,298.6 14.3,305.7 4.3,305.7 4.3,284.3 7.1,271.4"/><polygon class="ln" points="8.6,260.0 11.4,260.0 12.9,265.7 14.3,272.9 17.1,280.0 17.9,285.7 12.9,288.6 13.6,293.6 15.7,298.6 14.3,305.7 4.3,305.7 4.3,284.3 7.1,271.4"/>
<polygon fill="#b8d1c5" stroke="#b8d1c5" stroke-width="0.7" stroke-linejoin="round" points="11.4,260.0 18.6,260.0 21.4,264.3 20.0,270.0 22.9,272.9 26.4,277.1 25.7,282.9 26.4,287.9 21.4,288.6 17.9,285.7 17.1,280.0 14.3,272.9 12.9,265.7"/><polygon class="ln" points="11.4,260.0 18.6,260.0 21.4,264.3 20.0,270.0 22.9,272.9 26.4,277.1 25.7,282.9 26.4,287.9 21.4,288.6 17.9,285.7 17.1,280.0 14.3,272.9 12.9,265.7"/>
<polygon fill="#8fb6be" stroke="#8fb6be" stroke-width="0.7" stroke-linejoin="round" points="15.7,257.1 34.3,259.3 37.1,265.7 35.7,270.0 30.0,271.4 30.7,275.7 26.4,277.1 22.9,272.9 20.0,270.0 21.4,264.3"/><polygon class="ln" points="15.7,257.1 34.3,259.3 37.1,265.7 35.7,270.0 30.0,271.4 30.7,275.7 26.4,277.1 22.9,272.9 20.0,270.0 21.4,264.3"/>
<polygon fill="#a3c3c2" stroke="#a3c3c2" stroke-width="0.7" stroke-linejoin="round" points="34.3,259.3 44.3,262.9 42.9,270.0 38.6,274.3 30.7,275.7 30.0,271.4 35.7,270.0 37.1,265.7"/><polygon class="ln" points="34.3,259.3 44.3,262.9 42.9,270.0 38.6,274.3 30.7,275.7 30.0,271.4 35.7,270.0 37.1,265.7"/>
<polygon fill="#c2d8c6" stroke="#c2d8c6" stroke-width="0.7" stroke-linejoin="round" points="26.4,277.1 30.7,275.7 38.6,274.3 42.9,280.0 48.6,281.4 47.1,285.7 44.3,288.6 38.6,292.9 31.4,295.0 26.4,287.9 25.7,282.9"/><polygon class="ln" points="26.4,277.1 30.7,275.7 38.6,274.3 42.9,280.0 48.6,281.4 47.1,285.7 44.3,288.6 38.6,292.9 31.4,295.0 26.4,287.9 25.7,282.9"/>
<polygon fill="#dfe9c8" stroke="#dfe9c8" stroke-width="0.7" stroke-linejoin="round" points="38.6,274.3 42.9,270.0 45.7,271.4 51.4,278.6 48.6,281.4 42.9,280.0"/><polygon class="ln" points="38.6,274.3 42.9,270.0 45.7,271.4 51.4,278.6 48.6,281.4 42.9,280.0"/>
<polygon fill="#fbfad0" stroke="#fbfad0" stroke-width="0.7" stroke-linejoin="round" points="12.9,288.6 17.9,287.9 21.4,291.4 25.7,295.7 30.7,297.9 31.4,300.7 27.1,305.7 21.4,305.7 19.3,301.4 15.7,298.6 13.6,293.6"/><polygon class="ln" points="12.9,288.6 17.9,287.9 21.4,291.4 25.7,295.7 30.7,297.9 31.4,300.7 27.1,305.7 21.4,305.7 19.3,301.4 15.7,298.6 13.6,293.6"/>
<polygon fill="#e6edc8" stroke="#e6edc8" stroke-width="0.7" stroke-linejoin="round" points="48.6,281.4 51.4,278.6 54.3,271.4 61.4,272.1 65.7,275.7 72.9,272.9 75.7,278.6 80.0,285.7 80.0,288.6 57.1,288.6 47.1,290.0 38.6,292.9 44.3,288.6 47.1,285.7"/><polygon class="ln" points="48.6,281.4 51.4,278.6 54.3,271.4 61.4,272.1 65.7,275.7 72.9,272.9 75.7,278.6 80.0,285.7 80.0,288.6 57.1,288.6 47.1,290.0 38.6,292.9 44.3,288.6 47.1,285.7"/>
<polygon fill="#cfe0c8" stroke="#cfe0c8" stroke-width="0.7" stroke-linejoin="round" points="44.3,262.9 54.3,260.0 74.3,260.0 72.9,268.6 72.9,272.9 65.7,275.7 61.4,272.1 54.3,271.4 51.4,278.6 45.7,271.4 42.9,270.0"/><polygon class="ln" points="44.3,262.9 54.3,260.0 74.3,260.0 72.9,268.6 72.9,272.9 65.7,275.7 61.4,272.1 54.3,271.4 51.4,278.6 45.7,271.4 42.9,270.0"/>
<polygon fill="#f6f6cf" stroke="#f6f6cf" stroke-width="0.7" stroke-linejoin="round" points="74.3,260.0 80.0,260.0 80.0,285.7 75.7,278.6 72.9,272.9 72.9,268.6"/><polygon class="ln" points="74.3,260.0 80.0,260.0 80.0,285.7 75.7,278.6 72.9,272.9 72.9,268.6"/>
<polygon fill="#cfe0c6" stroke="#cfe0c6" stroke-width="0.7" stroke-linejoin="round" points="60.0,245.0 70.0,245.0 71.4,253.6 74.3,263.6 71.4,270.7 65.7,275.0 60.0,272.1"/><polygon class="ln" points="60.0,245.0 70.0,245.0 71.4,253.6 74.3,263.6 71.4,270.7 65.7,275.0 60.0,272.1"/>
<polygon fill="#c9dcc6" stroke="#c9dcc6" stroke-width="0.7" stroke-linejoin="round" points="60.0,235.0 68.6,236.4 70.0,245.0 60.0,247.9"/><polygon class="ln" points="60.0,235.0 68.6,236.4 70.0,245.0 60.0,247.9"/>
<polygon fill="#fbfad0" stroke="#fbfad0" stroke-width="0.7" stroke-linejoin="round" points="74.3,263.6 77.1,258.6 82.9,257.9 92.9,259.3 96.4,262.1 85.7,269.3 89.3,275.0 85.7,282.1 80.0,286.4 77.1,283.6 75.7,276.4 72.1,271.4"/><polygon class="ln" points="74.3,263.6 77.1,258.6 82.9,257.9 92.9,259.3 96.4,262.1 85.7,269.3 89.3,275.0 85.7,282.1 80.0,286.4 77.1,283.6 75.7,276.4 72.1,271.4"/>
<polygon fill="#fbfad0" stroke="#fbfad0" stroke-width="0.7" stroke-linejoin="round" points="90.0,239.3 120.0,239.3 120.0,245.0 112.9,247.9 109.3,251.4 110.7,255.7 105.7,262.1 101.4,267.9 99.3,274.3 96.4,262.1 92.9,259.3 92.1,250.7"/><polygon class="ln" points="90.0,239.3 120.0,239.3 120.0,245.0 112.9,247.9 109.3,251.4 110.7,255.7 105.7,262.1 101.4,267.9 99.3,274.3 96.4,262.1 92.9,259.3 92.1,250.7"/>
<polygon fill="#fbfad0" stroke="#fbfad0" stroke-width="0.7" stroke-linejoin="round" points="107.1,215.0 141.4,220.7 141.4,235.0 128.6,243.6 107.1,247.9 102.9,233.6"/><polygon class="ln" points="107.1,215.0 141.4,220.7 141.4,235.0 128.6,243.6 107.1,247.9 102.9,233.6"/>
<polygon fill="#f5f6d0" stroke="#f5f6d0" stroke-width="0.7" stroke-linejoin="round" points="92.9,215.0 107.1,215.0 107.1,232.1 98.6,233.6 92.9,229.3"/><polygon class="ln" points="92.9,215.0 107.1,215.0 107.1,232.1 98.6,233.6 92.9,229.3"/>
<polygon fill="#f8f8d0" stroke="#f8f8d0" stroke-width="0.7" stroke-linejoin="round" points="98.6,185.7 107.1,182.1 111.4,181.4 118.6,185.7 125.7,191.4 128.6,197.1 125.7,202.9 131.4,212.9 128.6,217.1 98.6,217.1"/><polygon class="ln" points="98.6,185.7 107.1,182.1 111.4,181.4 118.6,185.7 125.7,191.4 128.6,197.1 125.7,202.9 131.4,212.9 128.6,217.1 98.6,217.1"/>
<polygon fill="#f3f6d2" stroke="#f3f6d2" stroke-width="0.7" stroke-linejoin="round" points="108.6,181.7 111.4,181.4 118.6,185.7 125.7,191.4 128.6,197.1 125.7,202.9 121.4,198.6 117.1,200.7 112.9,194.3 113.6,187.1"/><polygon class="ln" points="108.6,181.7 111.4,181.4 118.6,185.7 125.7,191.4 128.6,197.1 125.7,202.9 121.4,198.6 117.1,200.7 112.9,194.3 113.6,187.1"/>
<polygon fill="#f6f6cf" stroke="#f6f6cf" stroke-width="0.7" stroke-linejoin="round" points="108.6,203.6 128.6,203.6 131.4,213.6 124.3,219.3 138.6,219.3 140.0,230.7 139.3,235.7 135.7,240.0 127.1,242.1 118.6,244.3 108.6,248.6"/><polygon class="ln" points="108.6,203.6 128.6,203.6 131.4,213.6 124.3,219.3 138.6,219.3 140.0,230.7 139.3,235.7 135.7,240.0 127.1,242.1 118.6,244.3 108.6,248.6"/>
<polygon fill="#a8cbc4" stroke="#a8cbc4" stroke-width="0.7" stroke-linejoin="round" points="125.9,195.0 131.3,200.4 134.5,202.6 136.7,197.2 143.1,196.0 144.2,207.9 141.0,219.8 124.8,219.8 125.9,216.6 131.8,213.9 129.1,209.0 125.9,201.5"/><polygon class="ln" points="125.9,195.0 131.3,200.4 134.5,202.6 136.7,197.2 143.1,196.0 144.2,207.9 141.0,219.8 124.8,219.8 125.9,216.6 131.8,213.9 129.1,209.0 125.9,201.5"/>
<polygon fill="#8ab5c0" stroke="#8ab5c0" stroke-width="0.7" stroke-linejoin="round" points="143.5,205.0 144.2,207.9 147.5,212.3 152.9,220.9 152.4,224.4 148.1,228.2 150.0,231.9 148.7,238.5 139.0,238.5 139.4,223.0 141.0,219.8"/><polygon class="ln" points="143.5,205.0 144.2,207.9 147.5,212.3 152.9,220.9 152.4,224.4 148.1,228.2 150.0,231.9 148.7,238.5 139.0,238.5 139.4,223.0 141.0,219.8"/>
<polygon fill="#4a7d9a" stroke="#4a7d9a" stroke-width="0.7" stroke-linejoin="round" points="147.5,210.8 156.2,210.8 156.2,215.7 157.4,221.9 153.7,220.7 152.4,218.2"/><polygon class="ln" points="147.5,210.8 156.2,210.8 156.2,215.7 157.4,221.9 153.7,220.7 152.4,218.2"/>
<polygon fill="#5e97ad" stroke="#5e97ad" stroke-width="0.7" stroke-linejoin="round" points="148.1,228.2 152.4,224.4 153.7,220.7 157.4,221.9 161.8,225.7 164.9,227.5 160.5,230.7 155.5,234.4 156.2,236.9 153.7,241.2 149.9,241.8 148.7,237.5 149.9,231.9"/><polygon class="ln" points="148.1,228.2 152.4,224.4 153.7,220.7 157.4,221.9 161.8,225.7 164.9,227.5 160.5,230.7 155.5,234.4 156.2,236.9 153.7,241.2 149.9,241.8 148.7,237.5 149.9,231.9"/>
<polygon fill="#3f6884" stroke="#3f6884" stroke-width="0.7" stroke-linejoin="round" points="156.2,215.7 163.6,213.9 169.8,219.5 170.5,223.2 166.1,224.4 163.6,225.7 161.8,225.7 157.4,221.9"/><polygon class="ln" points="156.2,215.7 163.6,213.9 169.8,219.5 170.5,223.2 166.1,224.4 163.6,225.7 161.8,225.7 157.4,221.9"/>
<polygon fill="#3a607d" stroke="#3a607d" stroke-width="0.7" stroke-linejoin="round" points="156.2,210.8 171.1,210.8 172.3,217.0 169.8,219.5 163.6,213.9 156.2,215.7"/><polygon class="ln" points="156.2,210.8 171.1,210.8 172.3,217.0 169.8,219.5 163.6,213.9 156.2,215.7"/>
<polygon fill="#4a7f9c" stroke="#4a7f9c" stroke-width="0.7" stroke-linejoin="round" points="171.1,210.8 177.3,210.8 178.5,219.5 177.3,221.3 172.3,221.3 169.8,219.5 172.3,217.0"/><polygon class="ln" points="171.1,210.8 177.3,210.8 178.5,219.5 177.3,221.3 172.3,221.3 169.8,219.5 172.3,217.0"/>
<polygon fill="#5589a0" stroke="#5589a0" stroke-width="0.7" stroke-linejoin="round" points="177.3,210.8 182.3,213.2 181.0,221.9 179.8,225.7 177.3,221.3 178.5,219.5"/><polygon class="ln" points="177.3,210.8 182.3,213.2 181.0,221.9 179.8,225.7 177.3,221.3 178.5,219.5"/>
<polygon fill="#6a9cb0" stroke="#6a9cb0" stroke-width="0.7" stroke-linejoin="round" points="182.3,213.2 189.7,215.7 194.7,219.5 193.5,223.2 189.7,228.2 186.6,230.7 184.1,230.0 183.5,226.9 179.8,225.7 181.0,221.9"/><polygon class="ln" points="182.3,213.2 189.7,215.7 194.7,219.5 193.5,223.2 189.7,228.2 186.6,230.7 184.1,230.0 183.5,226.9 179.8,225.7 181.0,221.9"/>
<polygon fill="#5089a2" stroke="#5089a2" stroke-width="0.7" stroke-linejoin="round" points="189.7,228.2 193.5,223.2 194.7,231.9 193.5,236.2 191.6,236.9 189.7,233.1 187.9,236.2 184.8,235.6 184.1,230.0 186.6,230.7"/><polygon class="ln" points="189.7,228.2 193.5,223.2 194.7,231.9 193.5,236.2 191.6,236.9 189.7,233.1 187.9,236.2 184.8,235.6 184.1,230.0 186.6,230.7"/>
<polygon fill="#9ab8bc" stroke="#9ab8bc" stroke-width="0.7" stroke-linejoin="round" points="193.5,223.2 194.7,219.5 202.2,218.8 204.7,219.5 203.4,223.2 202.2,228.2 199.7,231.9 194.7,233.1"/><polygon class="ln" points="193.5,223.2 194.7,219.5 202.2,218.8 204.7,219.5 203.4,223.2 202.2,228.2 199.7,231.9 194.7,233.1"/>
<polygon fill="#c2d8c6" stroke="#c2d8c6" stroke-width="0.7" stroke-linejoin="round" points="189.7,210.8 212.1,210.8 212.1,215.1 207.8,218.2 203.4,220.1 202.2,218.8 194.7,219.5 189.7,215.7"/><polygon class="ln" points="189.7,210.8 212.1,210.8 212.1,215.1 207.8,218.2 203.4,220.1 202.2,218.8 194.7,219.5 189.7,215.7"/>
<polygon fill="#1f4060" stroke="#1f4060" stroke-width="0.7" stroke-linejoin="round" points="170.5,223.2 172.3,221.3 177.3,221.3 179.8,225.7 183.5,226.9 184.1,230.0 181.0,231.9 179.8,236.2 176.1,236.2 172.9,233.1 171.7,229.4 169.2,229.4 168.0,233.8 166.7,240.0 164.2,236.9 163.0,232.5 166.1,230.7 168.6,228.2"/><polygon class="ln" points="170.5,223.2 172.3,221.3 177.3,221.3 179.8,225.7 183.5,226.9 184.1,230.0 181.0,231.9 179.8,236.2 176.1,236.2 172.9,233.1 171.7,229.4 169.2,229.4 168.0,233.8 166.7,240.0 164.2,236.9 163.0,232.5 166.1,230.7 168.6,228.2"/>
<polygon fill="#b8d2c8" stroke="#b8d2c8" stroke-width="0.7" stroke-linejoin="round" points="172.5,186.5 176.0,186.0 184.0,188.0 193.0,187.0 201.8,186.5 203.0,190.0 202.0,195.5 195.0,194.5 187.0,194.5 180.0,196.0 176.0,192.0"/><polygon class="ln" points="172.5,186.5 176.0,186.0 184.0,188.0 193.0,187.0 201.8,186.5 203.0,190.0 202.0,195.5 195.0,194.5 187.0,194.5 180.0,196.0 176.0,192.0"/>
<polygon fill="#a9c9c4" stroke="#a9c9c4" stroke-width="0.7" stroke-linejoin="round" points="198.6,178.0 203.0,176.4 207.5,177.0 208.1,184.0 207.0,190.0 204.0,194.1 202.0,195.0 203.0,190.0 201.8,186.5 199.0,183.0"/><polygon class="ln" points="198.6,178.0 203.0,176.4 207.5,177.0 208.1,184.0 207.0,190.0 204.0,194.1 202.0,195.0 203.0,190.0 201.8,186.5 199.0,183.0"/>
<polygon fill="#c5dcc8" stroke="#c5dcc8" stroke-width="0.7" stroke-linejoin="round" points="207.5,177.0 214.5,177.5 213.5,183.0 210.7,186.5 208.1,184.0"/><polygon class="ln" points="207.5,177.0 214.5,177.5 213.5,183.0 210.7,186.5 208.1,184.0"/>
<polygon fill="#e8eec8" stroke="#e8eec8" stroke-width="0.7" stroke-linejoin="round" points="214.5,176.5 221.0,175.7 226.0,178.0 228.5,183.0 224.0,184.0 220.8,183.0 216.0,181.5 213.5,183.0 214.5,177.5"/><polygon class="ln" points="214.5,176.5 221.0,175.7 226.0,178.0 228.5,183.0 224.0,184.0 220.8,183.0 216.0,181.5 213.5,183.0 214.5,177.5"/>
<polygon fill="#f8f8d0" stroke="#f8f8d0" stroke-width="0.7" stroke-linejoin="round" points="213.5,183.0 216.0,181.5 220.8,183.0 220.8,189.0 217.0,191.0 212.0,190.0 210.7,186.5"/><polygon class="ln" points="213.5,183.0 216.0,181.5 220.8,183.0 220.8,189.0 217.0,191.0 212.0,190.0 210.7,186.5"/>
<polygon fill="#fbfad0" stroke="#fbfad0" stroke-width="0.7" stroke-linejoin="round" points="220.8,183.3 224.0,184.0 228.5,183.0 233.0,188.0 233.0,194.1 226.0,194.0 221.0,195.0 220.8,189.0"/><polygon class="ln" points="220.8,183.3 224.0,184.0 228.5,183.0 233.0,188.0 233.0,194.1 226.0,194.0 221.0,195.0 220.8,189.0"/>
<polygon fill="#f3f5d0" stroke="#f3f5d0" stroke-width="0.7" stroke-linejoin="round" points="205.5,190.0 210.7,189.0 217.0,191.0 220.8,195.0 219.0,198.0 213.0,197.0 207.0,196.0"/><polygon class="ln" points="205.5,190.0 210.7,189.0 217.0,191.0 220.8,195.0 219.0,198.0 213.0,197.0 207.0,196.0"/>
<g fill="none" stroke="#8a9aa6" stroke-opacity="0.38" stroke-width="0.4" stroke-linejoin="round">
<polyline points="121.4,130.0 120.7,136.4 121.4,147.1"/>
<polyline points="120.7,136.4 129.3,137.9 130.7,132.9 142.9,132.1 145.0,132.9"/>
<polyline points="142.9,132.1 144.3,137.1 137.9,142.9 138.6,145.7 136.4,150.0 130.0,153.6 125.7,154.3"/>
<polyline points="136.4,150.0 137.9,152.9 146.4,152.1 149.3,152.9"/>
<polyline points="137.9,152.9 138.6,157.1 134.3,163.6 135.7,172.1"/>
<polyline points="134.3,163.6 126.4,167.1 120.0,169.3"/>
<polyline points="149.3,152.9 148.6,158.6 150.7,160.7"/>
<polyline points="148.6,158.6 150.7,164.3 147.9,168.6 142.9,170.7 135.7,172.1"/>
<polyline points="149.3,142.1 146.4,145.7 145.7,150.0 146.4,152.1"/>
<polyline points="120.7,105.0 118.6,113.6 120.7,123.6 117.1,126.4 121.4,133.6 120.7,140.7 123.6,147.9"/>
<polyline points="120.7,123.6 137.9,122.9 140.7,122.1"/>
<polyline points="117.1,126.4 130.0,131.4 145.0,130.7"/>
<polyline points="130.0,131.4 131.4,140.0 138.6,139.3 144.3,137.1 145.0,133.6"/>
<polyline points="131.4,140.0 136.4,147.9"/>
<polyline points="120.7,140.7 110.0,143.6"/>
<polyline points="88.6,105.0 84.3,116.4 84.3,123.6 88.6,125.0 98.6,122.9 118.6,122.1 120.0,112.1 130.0,105.0"/>
<polyline points="84.3,123.6 78.6,126.4 68.6,132.9 64.3,127.9 58.6,128.6"/>
<polyline points="88.6,125.0 85.7,132.1 88.6,137.9 85.7,146.4"/>
<polyline points="78.6,126.4 80.7,133.6 79.3,139.3 80.7,147.9"/>
<polyline points="118.6,122.1 117.1,127.9 121.4,132.1 120.0,137.9 121.4,146.4 117.1,147.9"/>
<polyline points="117.1,127.9 130.0,125.0"/>
<polyline points="121.4,132.1 130.0,133.6"/>
<polyline points="75.7,111.4 82.9,111.4 88.6,105.0"/>
<polyline points="178.6,107.9 183.6,109.3 186.4,115.0 191.4,117.1 192.1,126.4 195.7,131.4 199.3,135.0 198.6,139.3 192.1,142.1 185.0,139.3"/>
<polyline points="195.7,131.4 200.0,126.4 207.9,125.0 209.3,119.3 214.3,110.7 220.0,110.0"/>
<polyline points="209.3,119.3 215.0,128.6 223.6,139.3 219.3,150.0"/>
<polyline points="223.6,139.3 227.9,146.4 229.3,150.0"/>
<polyline points="202.9,105.0 207.9,109.3 214.3,110.7"/>
<polyline points="191.4,67.1 195.7,74.3 197.9,81.4 194.3,87.1 196.4,90.7 189.3,93.6 187.9,98.6 193.6,102.9 202.1,105.0"/>
<polyline points="206.4,163.6 213.6,159.3 217.9,153.6 220.0,145.0"/>
<polyline points="226.4,145.0 229.3,149.3 232.1,150.7"/>
<polyline points="92.9,215.0 93.6,223.6 81.4,230.7 78.6,236.4 70.0,235.0"/>
<polyline points="93.6,223.6 98.6,232.1 107.1,230.7 105.7,220.7 110.0,215.0"/>
<polyline points="107.1,230.7 117.1,233.6 121.4,227.9 120.0,219.3"/>
<polyline points="81.4,230.7 91.4,239.3 102.9,236.4 114.3,235.0 117.1,233.6"/>
<polyline points="91.4,239.3 90.7,250.7 94.3,257.9"/>
<polyline points="97.1,240.7 98.6,256.4"/>
<polyline points="102.9,236.4 105.7,247.9 102.9,256.4"/>
<polyline points="121.4,227.9 128.6,229.3 134.3,223.6 140.0,226.4"/>
<polyline points="100.0,191.4 104.3,187.1 107.1,195.7 105.7,200.0 112.9,205.7 118.6,207.1 120.0,212.9"/>
<polyline points="107.1,195.7 114.3,192.9 118.6,185.7"/>
</g>
</g>
<g opacity="0.62"><ellipse cx="116" cy="255" rx="2.04" ry="0.85" fill="#a9c4b4" transform="rotate(25 116 255)"/>
<ellipse cx="124" cy="253.6" rx="2.21" ry="0.94" fill="#a9c4b4" transform="rotate(30 124 253.6)"/>
<ellipse cx="122" cy="259.5" rx="2.55" ry="1.36" fill="#a3c0b0" transform="rotate(50 122 259.5)"/>
<ellipse cx="119" cy="264.5" rx="1.36" ry="1.87" fill="#a9c4b4" transform="rotate(10 119 264.5)"/>
<ellipse cx="126" cy="260.5" rx="1.36" ry="1.19" fill="#a9c4b4" transform="rotate(0 126 260.5)"/>
<ellipse cx="130.2" cy="262" rx="1.19" ry="2.21" fill="#a9c4b4" transform="rotate(20 130.2 262)"/>
<ellipse cx="134.5" cy="259.6" rx="2.04" ry="1.02" fill="#a9c4b4" transform="rotate(-20 134.5 259.6)"/>
<ellipse cx="125" cy="273" rx="1.19" ry="1.70" fill="#b4cabb" transform="rotate(15 125 273)"/>
<ellipse cx="143.4" cy="246" rx="1.10" ry="2.46" fill="#6a9fb5" transform="rotate(38 143.4 246)"/>
<ellipse cx="137.8" cy="248.2" rx="1.53" ry="0.85" fill="#6a9fb5" transform="rotate(0 137.8 248.2)"/>
<ellipse cx="149.9" cy="243.4" rx="0.85" ry="0.77" fill="#3a6683" transform="rotate(0 149.9 243.4)"/>
<ellipse cx="165.5" cy="241.9" rx="0.94" ry="0.94" fill="#1f4060" transform="rotate(0 165.5 241.9)"/>
<ellipse cx="150.6" cy="243.7" rx="0.77" ry="0.68" fill="#4d86a2" transform="rotate(0 150.6 243.7)"/>
<ellipse cx="181.7" cy="244.3" rx="0.77" ry="0.94" fill="#5a8fa5" transform="rotate(0 181.7 244.3)"/>
<ellipse cx="183.5" cy="249.3" rx="0.85" ry="0.85" fill="#5a8fa5" transform="rotate(0 183.5 249.3)"/>
<ellipse cx="187.9" cy="240" rx="1.02" ry="0.68" fill="#5a8fa5" transform="rotate(0 187.9 240)"/>
<ellipse cx="178.6" cy="238.3" rx="0.59" ry="0.59" fill="#1f4060" transform="rotate(0 178.6 238.3)"/>
<ellipse cx="144.6" cy="246.5" rx="0.51" ry="1.70" fill="#a9c9c4" transform="rotate(30 144.6 246.5)"/></g>
</g>
<g id="up"><path d="M0,-0.62 L0.5,-0.05 L0.2,-0.05 L0.2,0.6 L-0.2,0.6 L-0.2,-0.05 L-0.5,-0.05 Z" fill="#fff"/></g>
</defs>
<use href="#map"/>
<use href="#map" transform="translate(317.5,1.4)"/>
<circle cx="480.7" cy="101" r="2.90" fill="#2b5ea3" stroke="#ffffff" stroke-opacity="0.6" stroke-width="0.7"/><path d="M0,-0.68 L0.58,0.02 L0.45,0.12 L0.17,-0.10 L0.17,0.74 L-0.17,0.74 L-0.17,-0.10 L-0.45,0.12 L-0.58,0.02 Z" fill="#f7f3f5" transform="translate(480.7 101) scale(3.10) rotate(180)"/>
<circle cx="505" cy="84.2" r="3.10" fill="#2b5ea3" stroke="#ffffff" stroke-opacity="0.6" stroke-width="0.7"/><path d="M0,-0.68 L0.58,0.02 L0.45,0.12 L0.17,-0.10 L0.17,0.74 L-0.17,0.74 L-0.17,-0.10 L-0.45,0.12 L-0.58,0.02 Z" fill="#f7f3f5" transform="translate(505 84.2) scale(3.30) rotate(180)"/>
<circle cx="521.9" cy="94.7" r="2.40" fill="#2b5ea3" stroke="#ffffff" stroke-opacity="0.6" stroke-width="0.7"/><path d="M0,-0.68 L0.58,0.02 L0.45,0.12 L0.17,-0.10 L0.17,0.74 L-0.17,0.74 L-0.17,-0.10 L-0.45,0.12 L-0.58,0.02 Z" fill="#f7f3f5" transform="translate(521.9 94.7) scale(2.60) rotate(180)"/>
<circle cx="513.7" cy="114.7" r="2.70" fill="#2b5ea3" stroke="#ffffff" stroke-opacity="0.6" stroke-width="0.7"/><path d="M0,-0.68 L0.58,0.02 L0.45,0.12 L0.17,-0.10 L0.17,0.74 L-0.17,0.74 L-0.17,-0.10 L-0.45,0.12 L-0.58,0.02 Z" fill="#f7f3f5" transform="translate(513.7 114.7) scale(2.90) rotate(180)"/>
<circle cx="465.4" cy="119.3" r="2.50" fill="#2b5ea3" stroke="#ffffff" stroke-opacity="0.6" stroke-width="0.7"/><path d="M0,-0.68 L0.58,0.02 L0.45,0.12 L0.17,-0.10 L0.17,0.74 L-0.17,0.74 L-0.17,-0.10 L-0.45,0.12 L-0.58,0.02 Z" fill="#f7f3f5" transform="translate(465.4 119.3) scale(2.70) rotate(180)"/>
<circle cx="486" cy="119.6" r="3.70" fill="#2b5ea3" stroke="#ffffff" stroke-opacity="0.6" stroke-width="0.7"/><path d="M0,-0.68 L0.58,0.02 L0.45,0.12 L0.17,-0.10 L0.17,0.74 L-0.17,0.74 L-0.17,-0.10 L-0.45,0.12 L-0.58,0.02 Z" fill="#f7f3f5" transform="translate(486 119.6) scale(3.90) rotate(180)"/>
<circle cx="487.6" cy="138.2" r="4.10" fill="#2b5ea3" stroke="#ffffff" stroke-opacity="0.6" stroke-width="0.7"/><path d="M0,-0.68 L0.58,0.02 L0.45,0.12 L0.17,-0.10 L0.17,0.74 L-0.17,0.74 L-0.17,-0.10 L-0.45,0.12 L-0.58,0.02 Z" fill="#f7f3f5" transform="translate(487.6 138.2) scale(4.30) rotate(180)"/>
<circle cx="503.6" cy="128.6" r="3.20" fill="#2b5ea3" stroke="#ffffff" stroke-opacity="0.6" stroke-width="0.7"/><path d="M0,-0.68 L0.58,0.02 L0.45,0.12 L0.17,-0.10 L0.17,0.74 L-0.17,0.74 L-0.17,-0.10 L-0.45,0.12 L-0.58,0.02 Z" fill="#f7f3f5" transform="translate(503.6 128.6) scale(3.40) rotate(180)"/>
<circle cx="469.3" cy="146" r="2.20" fill="#2b5ea3" stroke="#ffffff" stroke-opacity="0.6" stroke-width="0.7"/><path d="M0,-0.68 L0.58,0.02 L0.45,0.12 L0.17,-0.10 L0.17,0.74 L-0.17,0.74 L-0.17,-0.10 L-0.45,0.12 L-0.58,0.02 Z" fill="#f7f3f5" transform="translate(469.3 146) scale(2.40) rotate(180)"/>
<circle cx="482.4" cy="149.7" r="3.70" fill="#2b5ea3" stroke="#ffffff" stroke-opacity="0.6" stroke-width="0.7"/><path d="M0,-0.68 L0.58,0.02 L0.45,0.12 L0.17,-0.10 L0.17,0.74 L-0.17,0.74 L-0.17,-0.10 L-0.45,0.12 L-0.58,0.02 Z" fill="#f7f3f5" transform="translate(482.4 149.7) scale(3.90) rotate(180)"/>
<circle cx="503.5" cy="149.6" r="3.70" fill="#2b5ea3" stroke="#ffffff" stroke-opacity="0.6" stroke-width="0.7"/><path d="M0,-0.68 L0.58,0.02 L0.45,0.12 L0.17,-0.10 L0.17,0.74 L-0.17,0.74 L-0.17,-0.10 L-0.45,0.12 L-0.58,0.02 Z" fill="#f7f3f5" transform="translate(503.5 149.6) scale(3.90) rotate(180)"/>
<circle cx="541.3" cy="131.1" r="2.20" fill="#2b5ea3" stroke="#ffffff" stroke-opacity="0.6" stroke-width="0.7"/><path d="M0,-0.68 L0.58,0.02 L0.45,0.12 L0.17,-0.10 L0.17,0.74 L-0.17,0.74 L-0.17,-0.10 L-0.45,0.12 L-0.58,0.02 Z" fill="#f7f3f5" transform="translate(541.3 131.1) scale(2.40) rotate(180)"/>
<circle cx="525.5" cy="142.1" r="3.10" fill="#2b5ea3" stroke="#ffffff" stroke-opacity="0.6" stroke-width="0.7"/><path d="M0,-0.68 L0.58,0.02 L0.45,0.12 L0.17,-0.10 L0.17,0.74 L-0.17,0.74 L-0.17,-0.10 L-0.45,0.12 L-0.58,0.02 Z" fill="#f7f3f5" transform="translate(525.5 142.1) scale(3.30) rotate(180)"/>
<circle cx="536" cy="158" r="3.10" fill="#2b5ea3" stroke="#ffffff" stroke-opacity="0.6" stroke-width="0.7"/><path d="M0,-0.68 L0.58,0.02 L0.45,0.12 L0.17,-0.10 L0.17,0.74 L-0.17,0.74 L-0.17,-0.10 L-0.45,0.12 L-0.58,0.02 Z" fill="#f7f3f5" transform="translate(536 158) scale(3.30) rotate(180)"/>
<circle cx="540.5" cy="168.6" r="2.20" fill="#2b5ea3" stroke="#ffffff" stroke-opacity="0.6" stroke-width="0.7"/><path d="M0,-0.68 L0.58,0.02 L0.45,0.12 L0.17,-0.10 L0.17,0.74 L-0.17,0.74 L-0.17,-0.10 L-0.45,0.12 L-0.58,0.02 Z" fill="#f7f3f5" transform="translate(540.5 168.6) scale(2.40) rotate(180)"/>
<circle cx="402" cy="160.7" r="1.80" fill="#2b5ea3" stroke="#ffffff" stroke-opacity="0.6" stroke-width="0.7"/><path d="M0,-0.68 L0.58,0.02 L0.45,0.12 L0.17,-0.10 L0.17,0.74 L-0.17,0.74 L-0.17,-0.10 L-0.45,0.12 L-0.58,0.02 Z" fill="#f7f3f5" transform="translate(402 160.7) scale(2.00) rotate(180)"/>
<circle cx="429.7" cy="158" r="3.10" fill="#2b5ea3" stroke="#ffffff" stroke-opacity="0.6" stroke-width="0.7"/><path d="M0,-0.68 L0.58,0.02 L0.45,0.12 L0.17,-0.10 L0.17,0.74 L-0.17,0.74 L-0.17,-0.10 L-0.45,0.12 L-0.58,0.02 Z" fill="#f7f3f5" transform="translate(429.7 158) scale(3.30) rotate(180)"/>
<circle cx="415.6" cy="169.8" r="3.40" fill="#2b5ea3" stroke="#ffffff" stroke-opacity="0.6" stroke-width="0.7"/><path d="M0,-0.68 L0.58,0.02 L0.45,0.12 L0.17,-0.10 L0.17,0.74 L-0.17,0.74 L-0.17,-0.10 L-0.45,0.12 L-0.58,0.02 Z" fill="#f7f3f5" transform="translate(415.6 169.8) scale(3.60) rotate(180)"/>
<circle cx="446.4" cy="164.4" r="2.70" fill="#2b5ea3" stroke="#ffffff" stroke-opacity="0.6" stroke-width="0.7"/><path d="M0,-0.68 L0.58,0.02 L0.45,0.12 L0.17,-0.10 L0.17,0.74 L-0.17,0.74 L-0.17,-0.10 L-0.45,0.12 L-0.58,0.02 Z" fill="#f7f3f5" transform="translate(446.4 164.4) scale(2.90) rotate(180)"/>
<circle cx="459.9" cy="175.5" r="2.20" fill="#2b5ea3" stroke="#ffffff" stroke-opacity="0.6" stroke-width="0.7"/><path d="M0,-0.68 L0.58,0.02 L0.45,0.12 L0.17,-0.10 L0.17,0.74 L-0.17,0.74 L-0.17,-0.10 L-0.45,0.12 L-0.58,0.02 Z" fill="#f7f3f5" transform="translate(459.9 175.5) scale(2.40) rotate(180)"/>
<circle cx="446" cy="187.1" r="3.10" fill="#2b5ea3" stroke="#ffffff" stroke-opacity="0.6" stroke-width="0.7"/><path d="M0,-0.68 L0.58,0.02 L0.45,0.12 L0.17,-0.10 L0.17,0.74 L-0.17,0.74 L-0.17,-0.10 L-0.45,0.12 L-0.58,0.02 Z" fill="#f7f3f5" transform="translate(446 187.1) scale(3.30) rotate(180)"/>
<circle cx="477.5" cy="191" r="2.80" fill="#2b5ea3" stroke="#ffffff" stroke-opacity="0.6" stroke-width="0.7"/><path d="M0,-0.68 L0.58,0.02 L0.45,0.12 L0.17,-0.10 L0.17,0.74 L-0.17,0.74 L-0.17,-0.10 L-0.45,0.12 L-0.58,0.02 Z" fill="#f7f3f5" transform="translate(477.5 191) scale(3.00) rotate(180)"/>
<circle cx="498.1" cy="156.4" r="3.80" fill="#2b5ea3" stroke="#ffffff" stroke-opacity="0.6" stroke-width="0.7"/><path d="M0,-0.68 L0.58,0.02 L0.45,0.12 L0.17,-0.10 L0.17,0.74 L-0.17,0.74 L-0.17,-0.10 L-0.45,0.12 L-0.58,0.02 Z" fill="#f7f3f5" transform="translate(498.1 156.4) scale(4.00) rotate(180)"/>
<circle cx="516" cy="162.1" r="4.30" fill="#2b5ea3" stroke="#ffffff" stroke-opacity="0.6" stroke-width="0.7"/><path d="M0,-0.68 L0.58,0.02 L0.45,0.12 L0.17,-0.10 L0.17,0.74 L-0.17,0.74 L-0.17,-0.10 L-0.45,0.12 L-0.58,0.02 Z" fill="#f7f3f5" transform="translate(516 162.1) scale(4.50) rotate(180)"/>
<circle cx="496.1" cy="168.6" r="3.80" fill="#2b5ea3" stroke="#ffffff" stroke-opacity="0.6" stroke-width="0.7"/><path d="M0,-0.68 L0.58,0.02 L0.45,0.12 L0.17,-0.10 L0.17,0.74 L-0.17,0.74 L-0.17,-0.10 L-0.45,0.12 L-0.58,0.02 Z" fill="#f7f3f5" transform="translate(496.1 168.6) scale(4.00) rotate(180)"/>
<circle cx="485.7" cy="166.1" r="1.50" fill="#2b5ea3" stroke="#ffffff" stroke-opacity="0.6" stroke-width="0.7"/><path d="M0,-0.68 L0.58,0.02 L0.45,0.12 L0.17,-0.10 L0.17,0.74 L-0.17,0.74 L-0.17,-0.10 L-0.45,0.12 L-0.58,0.02 Z" fill="#f7f3f5" transform="translate(485.7 166.1) scale(1.70) rotate(180)"/>
<circle cx="503.6" cy="180.7" r="4.10" fill="#2b5ea3" stroke="#ffffff" stroke-opacity="0.6" stroke-width="0.7"/><path d="M0,-0.68 L0.58,0.02 L0.45,0.12 L0.17,-0.10 L0.17,0.74 L-0.17,0.74 L-0.17,-0.10 L-0.45,0.12 L-0.58,0.02 Z" fill="#f7f3f5" transform="translate(503.6 180.7) scale(4.30) rotate(180)"/>
<circle cx="512.6" cy="181.4" r="4.10" fill="#2b5ea3" stroke="#ffffff" stroke-opacity="0.6" stroke-width="0.7"/><path d="M0,-0.68 L0.58,0.02 L0.45,0.12 L0.17,-0.10 L0.17,0.74 L-0.17,0.74 L-0.17,-0.10 L-0.45,0.12 L-0.58,0.02 Z" fill="#f7f3f5" transform="translate(512.6 181.4) scale(4.30) rotate(180)"/>
<circle cx="487.1" cy="181.2" r="1.80" fill="#2b5ea3" stroke="#ffffff" stroke-opacity="0.6" stroke-width="0.7"/><path d="M0,-0.68 L0.58,0.02 L0.45,0.12 L0.17,-0.10 L0.17,0.74 L-0.17,0.74 L-0.17,-0.10 L-0.45,0.12 L-0.58,0.02 Z" fill="#f7f3f5" transform="translate(487.1 181.2) scale(2.00) rotate(180)"/>
<circle cx="527.1" cy="184" r="2.90" fill="#2b5ea3" stroke="#ffffff" stroke-opacity="0.6" stroke-width="0.7"/><path d="M0,-0.68 L0.58,0.02 L0.45,0.12 L0.17,-0.10 L0.17,0.74 L-0.17,0.74 L-0.17,-0.10 L-0.45,0.12 L-0.58,0.02 Z" fill="#f7f3f5" transform="translate(527.1 184) scale(3.10) rotate(180)"/>
<circle cx="538.6" cy="183.4" r="2.50" fill="#2b5ea3" stroke="#ffffff" stroke-opacity="0.6" stroke-width="0.7"/><path d="M0,-0.68 L0.58,0.02 L0.45,0.12 L0.17,-0.10 L0.17,0.74 L-0.17,0.74 L-0.17,-0.10 L-0.45,0.12 L-0.58,0.02 Z" fill="#f7f3f5" transform="translate(538.6 183.4) scale(2.70) rotate(180)"/>
<circle cx="519.3" cy="182.6" r="1.30" fill="#2b5ea3" stroke="#ffffff" stroke-opacity="0.6" stroke-width="0.7"/><path d="M0,-0.68 L0.58,0.02 L0.45,0.12 L0.17,-0.10 L0.17,0.74 L-0.17,0.74 L-0.17,-0.10 L-0.45,0.12 L-0.58,0.02 Z" fill="#f7f3f5" transform="translate(519.3 182.6) scale(1.50) rotate(180)"/>
<circle cx="519.7" cy="186.7" r="3.70" fill="#2b5ea3" stroke="#ffffff" stroke-opacity="0.6" stroke-width="0.7"/><path d="M0,-0.68 L0.58,0.02 L0.45,0.12 L0.17,-0.10 L0.17,0.74 L-0.17,0.74 L-0.17,-0.10 L-0.45,0.12 L-0.58,0.02 Z" fill="#f7f3f5" transform="translate(519.7 186.7) scale(3.90) rotate(180)"/>
<circle cx="533.1" cy="187.6" r="2.70" fill="#2b5ea3" stroke="#ffffff" stroke-opacity="0.6" stroke-width="0.7"/><path d="M0,-0.68 L0.58,0.02 L0.45,0.12 L0.17,-0.10 L0.17,0.74 L-0.17,0.74 L-0.17,-0.10 L-0.45,0.12 L-0.58,0.02 Z" fill="#f7f3f5" transform="translate(533.1 187.6) scale(2.90) rotate(180)"/>
<circle cx="499.6" cy="192.1" r="3.50" fill="#2b5ea3" stroke="#ffffff" stroke-opacity="0.6" stroke-width="0.7"/><path d="M0,-0.68 L0.58,0.02 L0.45,0.12 L0.17,-0.10 L0.17,0.74 L-0.17,0.74 L-0.17,-0.10 L-0.45,0.12 L-0.58,0.02 Z" fill="#f7f3f5" transform="translate(499.6 192.1) scale(3.70) rotate(180)"/>
<circle cx="511.4" cy="193.6" r="3.70" fill="#2b5ea3" stroke="#ffffff" stroke-opacity="0.6" stroke-width="0.7"/><path d="M0,-0.68 L0.58,0.02 L0.45,0.12 L0.17,-0.10 L0.17,0.74 L-0.17,0.74 L-0.17,-0.10 L-0.45,0.12 L-0.58,0.02 Z" fill="#f7f3f5" transform="translate(511.4 193.6) scale(3.90) rotate(180)"/>
<circle cx="528.1" cy="194.7" r="1.90" fill="#2b5ea3" stroke="#ffffff" stroke-opacity="0.6" stroke-width="0.7"/><path d="M0,-0.68 L0.58,0.02 L0.45,0.12 L0.17,-0.10 L0.17,0.74 L-0.17,0.74 L-0.17,-0.10 L-0.45,0.12 L-0.58,0.02 Z" fill="#f7f3f5" transform="translate(528.1 194.7) scale(2.10) rotate(180)"/>
<circle cx="491.7" cy="199" r="3.80" fill="#2b5ea3" stroke="#ffffff" stroke-opacity="0.6" stroke-width="0.7"/><path d="M0,-0.68 L0.58,0.02 L0.45,0.12 L0.17,-0.10 L0.17,0.74 L-0.17,0.74 L-0.17,-0.10 L-0.45,0.12 L-0.58,0.02 Z" fill="#f7f3f5" transform="translate(491.7 199) scale(4.00) rotate(180)"/>
<circle cx="505" cy="201" r="3.70" fill="#2b5ea3" stroke="#ffffff" stroke-opacity="0.6" stroke-width="0.7"/><path d="M0,-0.68 L0.58,0.02 L0.45,0.12 L0.17,-0.10 L0.17,0.74 L-0.17,0.74 L-0.17,-0.10 L-0.45,0.12 L-0.58,0.02 Z" fill="#f7f3f5" transform="translate(505 201) scale(3.90) rotate(180)"/>
<circle cx="514" cy="199.6" r="3.20" fill="#2b5ea3" stroke="#ffffff" stroke-opacity="0.6" stroke-width="0.7"/><path d="M0,-0.68 L0.58,0.02 L0.45,0.12 L0.17,-0.10 L0.17,0.74 L-0.17,0.74 L-0.17,-0.10 L-0.45,0.12 L-0.58,0.02 Z" fill="#f7f3f5" transform="translate(514 199.6) scale(3.40) rotate(180)"/>
<circle cx="522.9" cy="201.4" r="2.20" fill="#2b5ea3" stroke="#ffffff" stroke-opacity="0.6" stroke-width="0.7"/><path d="M0,-0.68 L0.58,0.02 L0.45,0.12 L0.17,-0.10 L0.17,0.74 L-0.17,0.74 L-0.17,-0.10 L-0.45,0.12 L-0.58,0.02 Z" fill="#f7f3f5" transform="translate(522.9 201.4) scale(2.40) rotate(180)"/>
<circle cx="531.9" cy="200.7" r="1.90" fill="#2b5ea3" stroke="#ffffff" stroke-opacity="0.6" stroke-width="0.7"/><path d="M0,-0.68 L0.58,0.02 L0.45,0.12 L0.17,-0.10 L0.17,0.74 L-0.17,0.74 L-0.17,-0.10 L-0.45,0.12 L-0.58,0.02 Z" fill="#f7f3f5" transform="translate(531.9 200.7) scale(2.10) rotate(180)"/>
<circle cx="466.4" cy="202.5" r="3.80" fill="#2b5ea3" stroke="#ffffff" stroke-opacity="0.6" stroke-width="0.7"/><path d="M0,-0.68 L0.58,0.02 L0.45,0.12 L0.17,-0.10 L0.17,0.74 L-0.17,0.74 L-0.17,-0.10 L-0.45,0.12 L-0.58,0.02 Z" fill="#f7f3f5" transform="translate(466.4 202.5) scale(4.00) rotate(180)"/>
<circle cx="475.4" cy="205" r="3.70" fill="#2b5ea3" stroke="#ffffff" stroke-opacity="0.6" stroke-width="0.7"/><path d="M0,-0.68 L0.58,0.02 L0.45,0.12 L0.17,-0.10 L0.17,0.74 L-0.17,0.74 L-0.17,-0.10 L-0.45,0.12 L-0.58,0.02 Z" fill="#f7f3f5" transform="translate(475.4 205) scale(3.90) rotate(180)"/>
<circle cx="500.4" cy="207.6" r="4.10" fill="#2b5ea3" stroke="#ffffff" stroke-opacity="0.6" stroke-width="0.7"/><path d="M0,-0.68 L0.58,0.02 L0.45,0.12 L0.17,-0.10 L0.17,0.74 L-0.17,0.74 L-0.17,-0.10 L-0.45,0.12 L-0.58,0.02 Z" fill="#f7f3f5" transform="translate(500.4 207.6) scale(4.30) rotate(180)"/>
<circle cx="508.3" cy="209.7" r="3.20" fill="#2b5ea3" stroke="#ffffff" stroke-opacity="0.6" stroke-width="0.7"/><path d="M0,-0.68 L0.58,0.02 L0.45,0.12 L0.17,-0.10 L0.17,0.74 L-0.17,0.74 L-0.17,-0.10 L-0.45,0.12 L-0.58,0.02 Z" fill="#f7f3f5" transform="translate(508.3 209.7) scale(3.40) rotate(180)"/>
<circle cx="530.7" cy="207.6" r="3.20" fill="#2b5ea3" stroke="#ffffff" stroke-opacity="0.6" stroke-width="0.7"/><path d="M0,-0.68 L0.58,0.02 L0.45,0.12 L0.17,-0.10 L0.17,0.74 L-0.17,0.74 L-0.17,-0.10 L-0.45,0.12 L-0.58,0.02 Z" fill="#f7f3f5" transform="translate(530.7 207.6) scale(3.40) rotate(180)"/>
<circle cx="525.7" cy="207.6" r="1.90" fill="#2b5ea3" stroke="#ffffff" stroke-opacity="0.6" stroke-width="0.7"/><path d="M0,-0.68 L0.58,0.02 L0.45,0.12 L0.17,-0.10 L0.17,0.74 L-0.17,0.74 L-0.17,-0.10 L-0.45,0.12 L-0.58,0.02 Z" fill="#f7f3f5" transform="translate(525.7 207.6) scale(2.10) rotate(180)"/>
<circle cx="485.7" cy="210.4" r="3.70" fill="#2b5ea3" stroke="#ffffff" stroke-opacity="0.6" stroke-width="0.7"/><path d="M0,-0.68 L0.58,0.02 L0.45,0.12 L0.17,-0.10 L0.17,0.74 L-0.17,0.74 L-0.17,-0.10 L-0.45,0.12 L-0.58,0.02 Z" fill="#f7f3f5" transform="translate(485.7 210.4) scale(3.90) rotate(180)"/>
<circle cx="492.1" cy="213.9" r="4.10" fill="#2b5ea3" stroke="#ffffff" stroke-opacity="0.6" stroke-width="0.7"/><path d="M0,-0.68 L0.58,0.02 L0.45,0.12 L0.17,-0.10 L0.17,0.74 L-0.17,0.74 L-0.17,-0.10 L-0.45,0.12 L-0.58,0.02 Z" fill="#f7f3f5" transform="translate(492.1 213.9) scale(4.30) rotate(180)"/>
<circle cx="517.8" cy="213.6" r="3.70" fill="#2b5ea3" stroke="#ffffff" stroke-opacity="0.6" stroke-width="0.7"/><path d="M0,-0.68 L0.58,0.02 L0.45,0.12 L0.17,-0.10 L0.17,0.74 L-0.17,0.74 L-0.17,-0.10 L-0.45,0.12 L-0.58,0.02 Z" fill="#f7f3f5" transform="translate(517.8 213.6) scale(3.90) rotate(180)"/>
<circle cx="497.4" cy="217.7" r="3.30" fill="#2b5ea3" stroke="#ffffff" stroke-opacity="0.6" stroke-width="0.7"/><path d="M0,-0.68 L0.58,0.02 L0.45,0.12 L0.17,-0.10 L0.17,0.74 L-0.17,0.74 L-0.17,-0.10 L-0.45,0.12 L-0.58,0.02 Z" fill="#f7f3f5" transform="translate(497.4 217.7) scale(3.50) rotate(180)"/>
<circle cx="480" cy="220.6" r="3.00" fill="#2b5ea3" stroke="#ffffff" stroke-opacity="0.6" stroke-width="0.7"/><path d="M0,-0.68 L0.58,0.02 L0.45,0.12 L0.17,-0.10 L0.17,0.74 L-0.17,0.74 L-0.17,-0.10 L-0.45,0.12 L-0.58,0.02 Z" fill="#f7f3f5" transform="translate(480 220.6) scale(3.20) rotate(180)"/>
<circle cx="504.7" cy="222.1" r="4.10" fill="#2b5ea3" stroke="#ffffff" stroke-opacity="0.6" stroke-width="0.7"/><path d="M0,-0.68 L0.58,0.02 L0.45,0.12 L0.17,-0.10 L0.17,0.74 L-0.17,0.74 L-0.17,-0.10 L-0.45,0.12 L-0.58,0.02 Z" fill="#f7f3f5" transform="translate(504.7 222.1) scale(4.30) rotate(180)"/>
<circle cx="514.6" cy="226.9" r="4.10" fill="#2b5ea3" stroke="#ffffff" stroke-opacity="0.6" stroke-width="0.7"/><path d="M0,-0.68 L0.58,0.02 L0.45,0.12 L0.17,-0.10 L0.17,0.74 L-0.17,0.74 L-0.17,-0.10 L-0.45,0.12 L-0.58,0.02 Z" fill="#f7f3f5" transform="translate(514.6 226.9) scale(4.30) rotate(180)"/>
<circle cx="506.9" cy="232.4" r="3.80" fill="#2b5ea3" stroke="#ffffff" stroke-opacity="0.6" stroke-width="0.7"/><path d="M0,-0.68 L0.58,0.02 L0.45,0.12 L0.17,-0.10 L0.17,0.74 L-0.17,0.74 L-0.17,-0.10 L-0.45,0.12 L-0.58,0.02 Z" fill="#f7f3f5" transform="translate(506.9 232.4) scale(4.00) rotate(180)"/>
<circle cx="492.6" cy="228.6" r="2.90" fill="#2b5ea3" stroke="#ffffff" stroke-opacity="0.6" stroke-width="0.7"/><path d="M0,-0.68 L0.58,0.02 L0.45,0.12 L0.17,-0.10 L0.17,0.74 L-0.17,0.74 L-0.17,-0.10 L-0.45,0.12 L-0.58,0.02 Z" fill="#f7f3f5" transform="translate(492.6 228.6) scale(3.10) rotate(180)"/>
<circle cx="462.3" cy="226.4" r="3.00" fill="#2b5ea3" stroke="#ffffff" stroke-opacity="0.6" stroke-width="0.7"/><path d="M0,-0.68 L0.58,0.02 L0.45,0.12 L0.17,-0.10 L0.17,0.74 L-0.17,0.74 L-0.17,-0.10 L-0.45,0.12 L-0.58,0.02 Z" fill="#f7f3f5" transform="translate(462.3 226.4) scale(3.20) rotate(180)"/>
<circle cx="472.4" cy="231.8" r="1.70" fill="#2b5ea3" stroke="#ffffff" stroke-opacity="0.6" stroke-width="0.7"/><path d="M0,-0.68 L0.58,0.02 L0.45,0.12 L0.17,-0.10 L0.17,0.74 L-0.17,0.74 L-0.17,-0.10 L-0.45,0.12 L-0.58,0.02 Z" fill="#f7f3f5" transform="translate(472.4 231.8) scale(1.90) rotate(180)"/>
<circle cx="393.3" cy="173.6" r="2.70" fill="#2b5ea3" stroke="#ffffff" stroke-opacity="0.6" stroke-width="0.7"/><path d="M0,-0.68 L0.58,0.02 L0.45,0.12 L0.17,-0.10 L0.17,0.74 L-0.17,0.74 L-0.17,-0.10 L-0.45,0.12 L-0.58,0.02 Z" fill="#f7f3f5" transform="translate(393.3 173.6) scale(2.90) rotate(180)"/>
<circle cx="382.9" cy="188.6" r="3.20" fill="#2b5ea3" stroke="#ffffff" stroke-opacity="0.6" stroke-width="0.7"/><path d="M0,-0.68 L0.58,0.02 L0.45,0.12 L0.17,-0.10 L0.17,0.74 L-0.17,0.74 L-0.17,-0.10 L-0.45,0.12 L-0.58,0.02 Z" fill="#f7f3f5" transform="translate(382.9 188.6) scale(3.40) rotate(180)"/>
<circle cx="412.4" cy="197" r="3.10" fill="#2b5ea3" stroke="#ffffff" stroke-opacity="0.6" stroke-width="0.7"/><path d="M0,-0.68 L0.58,0.02 L0.45,0.12 L0.17,-0.10 L0.17,0.74 L-0.17,0.74 L-0.17,-0.10 L-0.45,0.12 L-0.58,0.02 Z" fill="#f7f3f5" transform="translate(412.4 197) scale(3.30) rotate(180)"/>
<circle cx="357.1" cy="201.7" r="3.20" fill="#2b5ea3" stroke="#ffffff" stroke-opacity="0.6" stroke-width="0.7"/><path d="M0,-0.68 L0.58,0.02 L0.45,0.12 L0.17,-0.10 L0.17,0.74 L-0.17,0.74 L-0.17,-0.10 L-0.45,0.12 L-0.58,0.02 Z" fill="#f7f3f5" transform="translate(357.1 201.7) scale(3.40) rotate(180)"/>
<circle cx="377.6" cy="202.9" r="3.70" fill="#2b5ea3" stroke="#ffffff" stroke-opacity="0.6" stroke-width="0.7"/><path d="M0,-0.68 L0.58,0.02 L0.45,0.12 L0.17,-0.10 L0.17,0.74 L-0.17,0.74 L-0.17,-0.10 L-0.45,0.12 L-0.58,0.02 Z" fill="#f7f3f5" transform="translate(377.6 202.9) scale(3.90) rotate(180)"/>
<circle cx="397.4" cy="202.9" r="3.40" fill="#2b5ea3" stroke="#ffffff" stroke-opacity="0.6" stroke-width="0.7"/><path d="M0,-0.68 L0.58,0.02 L0.45,0.12 L0.17,-0.10 L0.17,0.74 L-0.17,0.74 L-0.17,-0.10 L-0.45,0.12 L-0.58,0.02 Z" fill="#f7f3f5" transform="translate(397.4 202.9) scale(3.60) rotate(180)"/>
<circle cx="387.6" cy="210.7" r="4.10" fill="#2b5ea3" stroke="#ffffff" stroke-opacity="0.6" stroke-width="0.7"/><path d="M0,-0.68 L0.58,0.02 L0.45,0.12 L0.17,-0.10 L0.17,0.74 L-0.17,0.74 L-0.17,-0.10 L-0.45,0.12 L-0.58,0.02 Z" fill="#f7f3f5" transform="translate(387.6 210.7) scale(4.30) rotate(180)"/>
<circle cx="370" cy="217.1" r="2.90" fill="#2b5ea3" stroke="#ffffff" stroke-opacity="0.6" stroke-width="0.7"/><path d="M0,-0.68 L0.58,0.02 L0.45,0.12 L0.17,-0.10 L0.17,0.74 L-0.17,0.74 L-0.17,-0.10 L-0.45,0.12 L-0.58,0.02 Z" fill="#f7f3f5" transform="translate(370 217.1) scale(3.10) rotate(180)"/>
<circle cx="355.7" cy="218.1" r="2.40" fill="#2b5ea3" stroke="#ffffff" stroke-opacity="0.6" stroke-width="0.7"/><path d="M0,-0.68 L0.58,0.02 L0.45,0.12 L0.17,-0.10 L0.17,0.74 L-0.17,0.74 L-0.17,-0.10 L-0.45,0.12 L-0.58,0.02 Z" fill="#f7f3f5" transform="translate(355.7 218.1) scale(2.60) rotate(180)"/>
<circle cx="343.9" cy="215.7" r="1.70" fill="#2b5ea3" stroke="#ffffff" stroke-opacity="0.6" stroke-width="0.7"/><path d="M0,-0.68 L0.58,0.02 L0.45,0.12 L0.17,-0.10 L0.17,0.74 L-0.17,0.74 L-0.17,-0.10 L-0.45,0.12 L-0.58,0.02 Z" fill="#f7f3f5" transform="translate(343.9 215.7) scale(1.90) rotate(180)"/>
<circle cx="384.7" cy="225.7" r="3.80" fill="#2b5ea3" stroke="#ffffff" stroke-opacity="0.6" stroke-width="0.7"/><path d="M0,-0.68 L0.58,0.02 L0.45,0.12 L0.17,-0.10 L0.17,0.74 L-0.17,0.74 L-0.17,-0.10 L-0.45,0.12 L-0.58,0.02 Z" fill="#f7f3f5" transform="translate(384.7 225.7) scale(4.00) rotate(180)"/>
<circle cx="401.2" cy="223.8" r="4.40" fill="#2b5ea3" stroke="#ffffff" stroke-opacity="0.6" stroke-width="0.7"/><path d="M0,-0.68 L0.58,0.02 L0.45,0.12 L0.17,-0.10 L0.17,0.74 L-0.17,0.74 L-0.17,-0.10 L-0.45,0.12 L-0.58,0.02 Z" fill="#f7f3f5" transform="translate(401.2 223.8) scale(4.60) rotate(180)"/>
<circle cx="366.1" cy="234.5" r="2.20" fill="#2b5ea3" stroke="#ffffff" stroke-opacity="0.6" stroke-width="0.7"/><path d="M0,-0.68 L0.58,0.02 L0.45,0.12 L0.17,-0.10 L0.17,0.74 L-0.17,0.74 L-0.17,-0.10 L-0.45,0.12 L-0.58,0.02 Z" fill="#f7f3f5" transform="translate(366.1 234.5) scale(2.40) rotate(180)"/>
<circle cx="376" cy="243.9" r="2.90" fill="#2b5ea3" stroke="#ffffff" stroke-opacity="0.6" stroke-width="0.7"/><path d="M0,-0.68 L0.58,0.02 L0.45,0.12 L0.17,-0.10 L0.17,0.74 L-0.17,0.74 L-0.17,-0.10 L-0.45,0.12 L-0.58,0.02 Z" fill="#f7f3f5" transform="translate(376 243.9) scale(3.10) rotate(180)"/>
<circle cx="398.8" cy="246.2" r="3.70" fill="#2b5ea3" stroke="#ffffff" stroke-opacity="0.6" stroke-width="0.7"/><path d="M0,-0.68 L0.58,0.02 L0.45,0.12 L0.17,-0.10 L0.17,0.74 L-0.17,0.74 L-0.17,-0.10 L-0.45,0.12 L-0.58,0.02 Z" fill="#f7f3f5" transform="translate(398.8 246.2) scale(3.90) rotate(180)"/>
<circle cx="392.9" cy="254.6" r="3.10" fill="#2b5ea3" stroke="#ffffff" stroke-opacity="0.6" stroke-width="0.7"/><path d="M0,-0.68 L0.58,0.02 L0.45,0.12 L0.17,-0.10 L0.17,0.74 L-0.17,0.74 L-0.17,-0.10 L-0.45,0.12 L-0.58,0.02 Z" fill="#f7f3f5" transform="translate(392.9 254.6) scale(3.30) rotate(180)"/>
<circle cx="381" cy="260.4" r="1.90" fill="#2b5ea3" stroke="#ffffff" stroke-opacity="0.6" stroke-width="0.7"/><path d="M0,-0.68 L0.58,0.02 L0.45,0.12 L0.17,-0.10 L0.17,0.74 L-0.17,0.74 L-0.17,-0.10 L-0.45,0.12 L-0.58,0.02 Z" fill="#f7f3f5" transform="translate(381 260.4) scale(2.10) rotate(180)"/>
<circle cx="397.7" cy="275.2" r="2.70" fill="#2b5ea3" stroke="#ffffff" stroke-opacity="0.6" stroke-width="0.7"/><path d="M0,-0.68 L0.58,0.02 L0.45,0.12 L0.17,-0.10 L0.17,0.74 L-0.17,0.74 L-0.17,-0.10 L-0.45,0.12 L-0.58,0.02 Z" fill="#f7f3f5" transform="translate(397.7 275.2) scale(2.90) rotate(180)"/>
<circle cx="435" cy="200" r="2.70" fill="#2b5ea3" stroke="#ffffff" stroke-opacity="0.6" stroke-width="0.7"/><path d="M0,-0.68 L0.58,0.02 L0.45,0.12 L0.17,-0.10 L0.17,0.74 L-0.17,0.74 L-0.17,-0.10 L-0.45,0.12 L-0.58,0.02 Z" fill="#f7f3f5" transform="translate(435 200) scale(2.90) rotate(180)"/>
<circle cx="426" cy="209" r="3.10" fill="#2b5ea3" stroke="#ffffff" stroke-opacity="0.6" stroke-width="0.7"/><path d="M0,-0.68 L0.58,0.02 L0.45,0.12 L0.17,-0.10 L0.17,0.74 L-0.17,0.74 L-0.17,-0.10 L-0.45,0.12 L-0.58,0.02 Z" fill="#f7f3f5" transform="translate(426 209) scale(3.30) rotate(180)"/>
<circle cx="453.1" cy="209.7" r="3.20" fill="#2b5ea3" stroke="#ffffff" stroke-opacity="0.6" stroke-width="0.7"/><path d="M0,-0.68 L0.58,0.02 L0.45,0.12 L0.17,-0.10 L0.17,0.74 L-0.17,0.74 L-0.17,-0.10 L-0.45,0.12 L-0.58,0.02 Z" fill="#f7f3f5" transform="translate(453.1 209.7) scale(3.40) rotate(180)"/>
<circle cx="417.1" cy="222.1" r="3.80" fill="#2b5ea3" stroke="#ffffff" stroke-opacity="0.6" stroke-width="0.7"/><path d="M0,-0.68 L0.58,0.02 L0.45,0.12 L0.17,-0.10 L0.17,0.74 L-0.17,0.74 L-0.17,-0.10 L-0.45,0.12 L-0.58,0.02 Z" fill="#f7f3f5" transform="translate(417.1 222.1) scale(4.00) rotate(180)"/>
<circle cx="430.4" cy="226.4" r="3.20" fill="#2b5ea3" stroke="#ffffff" stroke-opacity="0.6" stroke-width="0.7"/><path d="M0,-0.68 L0.58,0.02 L0.45,0.12 L0.17,-0.10 L0.17,0.74 L-0.17,0.74 L-0.17,-0.10 L-0.45,0.12 L-0.58,0.02 Z" fill="#f7f3f5" transform="translate(430.4 226.4) scale(3.40) rotate(180)"/>
<circle cx="447.4" cy="231" r="1.70" fill="#2b5ea3" stroke="#ffffff" stroke-opacity="0.6" stroke-width="0.7"/><path d="M0,-0.68 L0.58,0.02 L0.45,0.12 L0.17,-0.10 L0.17,0.74 L-0.17,0.74 L-0.17,-0.10 L-0.45,0.12 L-0.58,0.02 Z" fill="#f7f3f5" transform="translate(447.4 231) scale(1.90) rotate(180)"/>
<circle cx="453.3" cy="231.9" r="2.10" fill="#2b5ea3" stroke="#ffffff" stroke-opacity="0.6" stroke-width="0.7"/><path d="M0,-0.68 L0.58,0.02 L0.45,0.12 L0.17,-0.10 L0.17,0.74 L-0.17,0.74 L-0.17,-0.10 L-0.45,0.12 L-0.58,0.02 Z" fill="#f7f3f5" transform="translate(453.3 231.9) scale(2.30) rotate(180)"/>
<circle cx="416.1" cy="238.6" r="4.10" fill="#2b5ea3" stroke="#ffffff" stroke-opacity="0.6" stroke-width="0.7"/><path d="M0,-0.68 L0.58,0.02 L0.45,0.12 L0.17,-0.10 L0.17,0.74 L-0.17,0.74 L-0.17,-0.10 L-0.45,0.12 L-0.58,0.02 Z" fill="#f7f3f5" transform="translate(416.1 238.6) scale(4.30) rotate(180)"/>
<circle cx="435.7" cy="237.9" r="3.10" fill="#2b5ea3" stroke="#ffffff" stroke-opacity="0.6" stroke-width="0.7"/><path d="M0,-0.68 L0.58,0.02 L0.45,0.12 L0.17,-0.10 L0.17,0.74 L-0.17,0.74 L-0.17,-0.10 L-0.45,0.12 L-0.58,0.02 Z" fill="#f7f3f5" transform="translate(435.7 237.9) scale(3.30) rotate(180)"/>
<circle cx="434.3" cy="243.9" r="2.90" fill="#2b5ea3" stroke="#ffffff" stroke-opacity="0.6" stroke-width="0.7"/><path d="M0,-0.68 L0.58,0.02 L0.45,0.12 L0.17,-0.10 L0.17,0.74 L-0.17,0.74 L-0.17,-0.10 L-0.45,0.12 L-0.58,0.02 Z" fill="#f7f3f5" transform="translate(434.3 243.9) scale(3.10) rotate(180)"/>
<circle cx="411.4" cy="250.7" r="3.40" fill="#2b5ea3" stroke="#ffffff" stroke-opacity="0.6" stroke-width="0.7"/><path d="M0,-0.68 L0.58,0.02 L0.45,0.12 L0.17,-0.10 L0.17,0.74 L-0.17,0.74 L-0.17,-0.10 L-0.45,0.12 L-0.58,0.02 Z" fill="#f7f3f5" transform="translate(411.4 250.7) scale(3.60) rotate(180)"/>
<circle cx="419.3" cy="249.7" r="3.70" fill="#2b5ea3" stroke="#ffffff" stroke-opacity="0.6" stroke-width="0.7"/><path d="M0,-0.68 L0.58,0.02 L0.45,0.12 L0.17,-0.10 L0.17,0.74 L-0.17,0.74 L-0.17,-0.10 L-0.45,0.12 L-0.58,0.02 Z" fill="#f7f3f5" transform="translate(419.3 249.7) scale(3.90) rotate(180)"/>
<circle cx="403.1" cy="263.6" r="2.70" fill="#2b5ea3" stroke="#ffffff" stroke-opacity="0.6" stroke-width="0.7"/><path d="M0,-0.68 L0.58,0.02 L0.45,0.12 L0.17,-0.10 L0.17,0.74 L-0.17,0.74 L-0.17,-0.10 L-0.45,0.12 L-0.58,0.02 Z" fill="#f7f3f5" transform="translate(403.1 263.6) scale(2.90) rotate(180)"/>
<circle cx="419.6" cy="263.3" r="2.70" fill="#2b5ea3" stroke="#ffffff" stroke-opacity="0.6" stroke-width="0.7"/><path d="M0,-0.68 L0.58,0.02 L0.45,0.12 L0.17,-0.10 L0.17,0.74 L-0.17,0.74 L-0.17,-0.10 L-0.45,0.12 L-0.58,0.02 Z" fill="#f7f3f5" transform="translate(419.6 263.3) scale(2.90) rotate(180)"/>
<circle cx="384.5" cy="92.9" r="6.20" fill="#994660" stroke="#ffffff" stroke-opacity="0.6" stroke-width="0.7"/><path d="M0,-0.68 L0.58,0.02 L0.45,0.12 L0.17,-0.10 L0.17,0.74 L-0.17,0.74 L-0.17,-0.10 L-0.45,0.12 L-0.58,0.02 Z" fill="#f7f3f5" transform="translate(384.5 92.9) scale(6.40)"/>
<circle cx="397.1" cy="93.3" r="6.40" fill="#994660" stroke="#ffffff" stroke-opacity="0.6" stroke-width="0.7"/><path d="M0,-0.68 L0.58,0.02 L0.45,0.12 L0.17,-0.10 L0.17,0.74 L-0.17,0.74 L-0.17,-0.10 L-0.45,0.12 L-0.58,0.02 Z" fill="#f7f3f5" transform="translate(397.1 93.3) scale(6.60)"/>
<circle cx="409" cy="98.6" r="5.90" fill="#994660" stroke="#ffffff" stroke-opacity="0.6" stroke-width="0.7"/><path d="M0,-0.68 L0.58,0.02 L0.45,0.12 L0.17,-0.10 L0.17,0.74 L-0.17,0.74 L-0.17,-0.10 L-0.45,0.12 L-0.58,0.02 Z" fill="#f7f3f5" transform="translate(409 98.6) scale(6.10)"/>
<circle cx="417.8" cy="87.6" r="6.70" fill="#994660" stroke="#ffffff" stroke-opacity="0.6" stroke-width="0.7"/><path d="M0,-0.68 L0.58,0.02 L0.45,0.12 L0.17,-0.10 L0.17,0.74 L-0.17,0.74 L-0.17,-0.10 L-0.45,0.12 L-0.58,0.02 Z" fill="#f7f3f5" transform="translate(417.8 87.6) scale(6.90)"/>
<circle cx="418.1" cy="105.6" r="4.80" fill="#994660" stroke="#ffffff" stroke-opacity="0.6" stroke-width="0.7"/><path d="M0,-0.68 L0.58,0.02 L0.45,0.12 L0.17,-0.10 L0.17,0.74 L-0.17,0.74 L-0.17,-0.10 L-0.45,0.12 L-0.58,0.02 Z" fill="#f7f3f5" transform="translate(418.1 105.6) scale(5.00)"/>
<circle cx="381.2" cy="105.4" r="5.80" fill="#994660" stroke="#ffffff" stroke-opacity="0.6" stroke-width="0.7"/><path d="M0,-0.68 L0.58,0.02 L0.45,0.12 L0.17,-0.10 L0.17,0.74 L-0.17,0.74 L-0.17,-0.10 L-0.45,0.12 L-0.58,0.02 Z" fill="#f7f3f5" transform="translate(381.2 105.4) scale(6.00)"/>
<circle cx="387.1" cy="113.6" r="5.20" fill="#994660" stroke="#ffffff" stroke-opacity="0.6" stroke-width="0.7"/><path d="M0,-0.68 L0.58,0.02 L0.45,0.12 L0.17,-0.10 L0.17,0.74 L-0.17,0.74 L-0.17,-0.10 L-0.45,0.12 L-0.58,0.02 Z" fill="#f7f3f5" transform="translate(387.1 113.6) scale(5.40)"/>
<circle cx="394.7" cy="122.1" r="4.40" fill="#994660" stroke="#ffffff" stroke-opacity="0.6" stroke-width="0.7"/><path d="M0,-0.68 L0.58,0.02 L0.45,0.12 L0.17,-0.10 L0.17,0.74 L-0.17,0.74 L-0.17,-0.10 L-0.45,0.12 L-0.58,0.02 Z" fill="#f7f3f5" transform="translate(394.7 122.1) scale(4.60)"/>
<circle cx="432.9" cy="109.1" r="3.50" fill="#994660" stroke="#ffffff" stroke-opacity="0.6" stroke-width="0.7"/><path d="M0,-0.68 L0.58,0.02 L0.45,0.12 L0.17,-0.10 L0.17,0.74 L-0.17,0.74 L-0.17,-0.10 L-0.45,0.12 L-0.58,0.02 Z" fill="#f7f3f5" transform="translate(432.9 109.1) scale(3.70)"/>
<circle cx="380" cy="136.7" r="4.40" fill="#994660" stroke="#ffffff" stroke-opacity="0.6" stroke-width="0.7"/><path d="M0,-0.68 L0.58,0.02 L0.45,0.12 L0.17,-0.10 L0.17,0.74 L-0.17,0.74 L-0.17,-0.10 L-0.45,0.12 L-0.58,0.02 Z" fill="#f7f3f5" transform="translate(380 136.7) scale(4.60)"/>
<circle cx="392.1" cy="140.4" r="3.40" fill="#994660" stroke="#ffffff" stroke-opacity="0.6" stroke-width="0.7"/><path d="M0,-0.68 L0.58,0.02 L0.45,0.12 L0.17,-0.10 L0.17,0.74 L-0.17,0.74 L-0.17,-0.10 L-0.45,0.12 L-0.58,0.02 Z" fill="#f7f3f5" transform="translate(392.1 140.4) scale(3.60)"/>
<circle cx="400.7" cy="137.9" r="3.20" fill="#994660" stroke="#ffffff" stroke-opacity="0.6" stroke-width="0.7"/><path d="M0,-0.68 L0.58,0.02 L0.45,0.12 L0.17,-0.10 L0.17,0.74 L-0.17,0.74 L-0.17,-0.10 L-0.45,0.12 L-0.58,0.02 Z" fill="#f7f3f5" transform="translate(400.7 137.9) scale(3.40)"/>
<circle cx="419.6" cy="134" r="2.90" fill="#994660" stroke="#ffffff" stroke-opacity="0.6" stroke-width="0.7"/><path d="M0,-0.68 L0.58,0.02 L0.45,0.12 L0.17,-0.10 L0.17,0.74 L-0.17,0.74 L-0.17,-0.10 L-0.45,0.12 L-0.58,0.02 Z" fill="#f7f3f5" transform="translate(419.6 134) scale(3.10)"/>
<circle cx="444.6" cy="117.1" r="3.50" fill="#994660" stroke="#ffffff" stroke-opacity="0.6" stroke-width="0.7"/><path d="M0,-0.68 L0.58,0.02 L0.45,0.12 L0.17,-0.10 L0.17,0.74 L-0.17,0.74 L-0.17,-0.10 L-0.45,0.12 L-0.58,0.02 Z" fill="#f7f3f5" transform="translate(444.6 117.1) scale(3.70)"/>
<circle cx="461" cy="91" r="1.70" fill="#994660" stroke="#ffffff" stroke-opacity="0.6" stroke-width="0.7"/><path d="M0,-0.68 L0.58,0.02 L0.45,0.12 L0.17,-0.10 L0.17,0.74 L-0.17,0.74 L-0.17,-0.10 L-0.45,0.12 L-0.58,0.02 Z" fill="#f7f3f5" transform="translate(461 91) scale(1.90)"/>
<circle cx="448.4" cy="129" r="3.20" fill="#994660" stroke="#ffffff" stroke-opacity="0.6" stroke-width="0.7"/><path d="M0,-0.68 L0.58,0.02 L0.45,0.12 L0.17,-0.10 L0.17,0.74 L-0.17,0.74 L-0.17,-0.10 L-0.45,0.12 L-0.58,0.02 Z" fill="#f7f3f5" transform="translate(448.4 129) scale(3.40)"/>
<circle cx="448.9" cy="143" r="2.80" fill="#994660" stroke="#ffffff" stroke-opacity="0.6" stroke-width="0.7"/><path d="M0,-0.68 L0.58,0.02 L0.45,0.12 L0.17,-0.10 L0.17,0.74 L-0.17,0.74 L-0.17,-0.10 L-0.45,0.12 L-0.58,0.02 Z" fill="#f7f3f5" transform="translate(448.9 143) scale(3.00)"/>
<circle cx="460.2" cy="146.1" r="2.20" fill="#994660" stroke="#ffffff" stroke-opacity="0.6" stroke-width="0.7"/><path d="M0,-0.68 L0.58,0.02 L0.45,0.12 L0.17,-0.10 L0.17,0.74 L-0.17,0.74 L-0.17,-0.10 L-0.45,0.12 L-0.58,0.02 Z" fill="#f7f3f5" transform="translate(460.2 146.1) scale(2.40)"/>
<circle cx="459.7" cy="162.6" r="2.10" fill="#994660" stroke="#ffffff" stroke-opacity="0.6" stroke-width="0.7"/><path d="M0,-0.68 L0.58,0.02 L0.45,0.12 L0.17,-0.10 L0.17,0.74 L-0.17,0.74 L-0.17,-0.10 L-0.45,0.12 L-0.58,0.02 Z" fill="#f7f3f5" transform="translate(459.7 162.6) scale(2.30)"/>
<circle cx="474.3" cy="161.8" r="2.20" fill="#994660" stroke="#ffffff" stroke-opacity="0.6" stroke-width="0.7"/><path d="M0,-0.68 L0.58,0.02 L0.45,0.12 L0.17,-0.10 L0.17,0.74 L-0.17,0.74 L-0.17,-0.10 L-0.45,0.12 L-0.58,0.02 Z" fill="#f7f3f5" transform="translate(474.3 161.8) scale(2.40)"/>
<circle cx="476.5" cy="172.1" r="2.40" fill="#994660" stroke="#ffffff" stroke-opacity="0.6" stroke-width="0.7"/><path d="M0,-0.68 L0.58,0.02 L0.45,0.12 L0.17,-0.10 L0.17,0.74 L-0.17,0.74 L-0.17,-0.10 L-0.45,0.12 L-0.58,0.02 Z" fill="#f7f3f5" transform="translate(476.5 172.1) scale(2.60)"/>
<circle cx="553.5" cy="162.5" r="2.50" fill="#994660" stroke="#ffffff" stroke-opacity="0.6" stroke-width="0.7"/><path d="M0,-0.68 L0.58,0.02 L0.45,0.12 L0.17,-0.10 L0.17,0.74 L-0.17,0.74 L-0.17,-0.10 L-0.45,0.12 L-0.58,0.02 Z" fill="#f7f3f5" transform="translate(553.5 162.5) scale(2.70)"/>
<circle cx="483.9" cy="235.7" r="2.70" fill="#994660" stroke="#ffffff" stroke-opacity="0.6" stroke-width="0.7"/><path d="M0,-0.68 L0.58,0.02 L0.45,0.12 L0.17,-0.10 L0.17,0.74 L-0.17,0.74 L-0.17,-0.10 L-0.45,0.12 L-0.58,0.02 Z" fill="#f7f3f5" transform="translate(483.9 235.7) scale(2.90)"/>
<circle cx="341.4" cy="240.7" r="4.10" fill="#994660" stroke="#ffffff" stroke-opacity="0.6" stroke-width="0.7"/><path d="M0,-0.68 L0.58,0.02 L0.45,0.12 L0.17,-0.10 L0.17,0.74 L-0.17,0.74 L-0.17,-0.10 L-0.45,0.12 L-0.58,0.02 Z" fill="#f7f3f5" transform="translate(341.4 240.7) scale(4.30)"/>
<circle cx="356.1" cy="244.7" r="2.90" fill="#994660" stroke="#ffffff" stroke-opacity="0.6" stroke-width="0.7"/><path d="M0,-0.68 L0.58,0.02 L0.45,0.12 L0.17,-0.10 L0.17,0.74 L-0.17,0.74 L-0.17,-0.10 L-0.45,0.12 L-0.58,0.02 Z" fill="#f7f3f5" transform="translate(356.1 244.7) scale(3.10)"/>
<circle cx="362.4" cy="248.9" r="2.20" fill="#994660" stroke="#ffffff" stroke-opacity="0.6" stroke-width="0.7"/><path d="M0,-0.68 L0.58,0.02 L0.45,0.12 L0.17,-0.10 L0.17,0.74 L-0.17,0.74 L-0.17,-0.10 L-0.45,0.12 L-0.58,0.02 Z" fill="#f7f3f5" transform="translate(362.4 248.9) scale(2.40)"/>
<circle cx="341.4" cy="256.4" r="4.40" fill="#994660" stroke="#ffffff" stroke-opacity="0.6" stroke-width="0.7"/><path d="M0,-0.68 L0.58,0.02 L0.45,0.12 L0.17,-0.10 L0.17,0.74 L-0.17,0.74 L-0.17,-0.10 L-0.45,0.12 L-0.58,0.02 Z" fill="#f7f3f5" transform="translate(341.4 256.4) scale(4.60)"/>
<circle cx="356.4" cy="259.6" r="3.80" fill="#994660" stroke="#ffffff" stroke-opacity="0.6" stroke-width="0.7"/><path d="M0,-0.68 L0.58,0.02 L0.45,0.12 L0.17,-0.10 L0.17,0.74 L-0.17,0.74 L-0.17,-0.10 L-0.45,0.12 L-0.58,0.02 Z" fill="#f7f3f5" transform="translate(356.4 259.6) scale(4.00)"/>
<circle cx="367.6" cy="266.8" r="2.90" fill="#994660" stroke="#ffffff" stroke-opacity="0.6" stroke-width="0.7"/><path d="M0,-0.68 L0.58,0.02 L0.45,0.12 L0.17,-0.10 L0.17,0.74 L-0.17,0.74 L-0.17,-0.10 L-0.45,0.12 L-0.58,0.02 Z" fill="#f7f3f5" transform="translate(367.6 266.8) scale(3.10)"/>
<circle cx="347.9" cy="266.4" r="4.80" fill="#994660" stroke="#ffffff" stroke-opacity="0.6" stroke-width="0.7"/><path d="M0,-0.68 L0.58,0.02 L0.45,0.12 L0.17,-0.10 L0.17,0.74 L-0.17,0.74 L-0.17,-0.10 L-0.45,0.12 L-0.58,0.02 Z" fill="#f7f3f5" transform="translate(347.9 266.4) scale(5.00)"/>
<circle cx="357.9" cy="269.8" r="5.20" fill="#994660" stroke="#ffffff" stroke-opacity="0.6" stroke-width="0.7"/><path d="M0,-0.68 L0.58,0.02 L0.45,0.12 L0.17,-0.10 L0.17,0.74 L-0.17,0.74 L-0.17,-0.10 L-0.45,0.12 L-0.58,0.02 Z" fill="#f7f3f5" transform="translate(357.9 269.8) scale(5.40)"/>
<circle cx="342.4" cy="272.3" r="3.90" fill="#994660" stroke="#ffffff" stroke-opacity="0.6" stroke-width="0.7"/><path d="M0,-0.68 L0.58,0.02 L0.45,0.12 L0.17,-0.10 L0.17,0.74 L-0.17,0.74 L-0.17,-0.10 L-0.45,0.12 L-0.58,0.02 Z" fill="#f7f3f5" transform="translate(342.4 272.3) scale(4.10)"/>
<circle cx="336.4" cy="275.6" r="3.60" fill="#994660" stroke="#ffffff" stroke-opacity="0.6" stroke-width="0.7"/><path d="M0,-0.68 L0.58,0.02 L0.45,0.12 L0.17,-0.10 L0.17,0.74 L-0.17,0.74 L-0.17,-0.10 L-0.45,0.12 L-0.58,0.02 Z" fill="#f7f3f5" transform="translate(336.4 275.6) scale(3.80)"/>
<circle cx="329.7" cy="280" r="3.40" fill="#994660" stroke="#ffffff" stroke-opacity="0.6" stroke-width="0.7"/><path d="M0,-0.68 L0.58,0.02 L0.45,0.12 L0.17,-0.10 L0.17,0.74 L-0.17,0.74 L-0.17,-0.10 L-0.45,0.12 L-0.58,0.02 Z" fill="#f7f3f5" transform="translate(329.7 280) scale(3.60)"/>
<circle cx="362.6" cy="277.9" r="4.40" fill="#994660" stroke="#ffffff" stroke-opacity="0.6" stroke-width="0.7"/><path d="M0,-0.68 L0.58,0.02 L0.45,0.12 L0.17,-0.10 L0.17,0.74 L-0.17,0.74 L-0.17,-0.10 L-0.45,0.12 L-0.58,0.02 Z" fill="#f7f3f5" transform="translate(362.6 277.9) scale(4.60)"/>
<circle cx="353.3" cy="286.4" r="6.20" fill="#994660" stroke="#ffffff" stroke-opacity="0.6" stroke-width="0.7"/><path d="M0,-0.68 L0.58,0.02 L0.45,0.12 L0.17,-0.10 L0.17,0.74 L-0.17,0.74 L-0.17,-0.10 L-0.45,0.12 L-0.58,0.02 Z" fill="#f7f3f5" transform="translate(353.3 286.4) scale(6.40)"/>
<circle cx="327.4" cy="298.3" r="5.10" fill="#994660" stroke="#ffffff" stroke-opacity="0.6" stroke-width="0.7"/><path d="M0,-0.68 L0.58,0.02 L0.45,0.12 L0.17,-0.10 L0.17,0.74 L-0.17,0.74 L-0.17,-0.10 L-0.45,0.12 L-0.58,0.02 Z" fill="#f7f3f5" transform="translate(327.4 298.3) scale(5.30)"/>
<circle cx="341.9" cy="292.1" r="5.90" fill="#994660" stroke="#ffffff" stroke-opacity="0.6" stroke-width="0.7"/><path d="M0,-0.68 L0.58,0.02 L0.45,0.12 L0.17,-0.10 L0.17,0.74 L-0.17,0.74 L-0.17,-0.10 L-0.45,0.12 L-0.58,0.02 Z" fill="#f7f3f5" transform="translate(341.9 292.1) scale(6.10)"/>
<circle cx="335.3" cy="295.7" r="3.70" fill="#994660" stroke="#ffffff" stroke-opacity="0.6" stroke-width="0.7"/><path d="M0,-0.68 L0.58,0.02 L0.45,0.12 L0.17,-0.10 L0.17,0.74 L-0.17,0.74 L-0.17,-0.10 L-0.45,0.12 L-0.58,0.02 Z" fill="#f7f3f5" transform="translate(335.3 295.7) scale(3.90)"/>
<circle cx="341.9" cy="302.9" r="6.50" fill="#994660" stroke="#ffffff" stroke-opacity="0.6" stroke-width="0.7"/><path d="M0,-0.68 L0.58,0.02 L0.45,0.12 L0.17,-0.10 L0.17,0.74 L-0.17,0.74 L-0.17,-0.10 L-0.45,0.12 L-0.58,0.02 Z" fill="#f7f3f5" transform="translate(341.9 302.9) scale(6.70)"/>
<circle cx="379.3" cy="282.1" r="2.20" fill="#994660" stroke="#ffffff" stroke-opacity="0.6" stroke-width="0.7"/><path d="M0,-0.68 L0.58,0.02 L0.45,0.12 L0.17,-0.10 L0.17,0.74 L-0.17,0.74 L-0.17,-0.10 L-0.45,0.12 L-0.58,0.02 Z" fill="#f7f3f5" transform="translate(379.3 282.1) scale(2.40)"/>
<circle cx="544" cy="190.2" r="2.60" fill="#994660" stroke="#ffffff" stroke-opacity="0.6" stroke-width="0.7"/><path d="M0,-0.68 L0.58,0.02 L0.45,0.12 L0.17,-0.10 L0.17,0.74 L-0.17,0.74 L-0.17,-0.10 L-0.45,0.12 L-0.58,0.02 Z" fill="#f7f3f5" transform="translate(544 190.2) scale(2.80)"/>
<circle cx="348.9" cy="224" r="1.50" fill="#e3c3cc" stroke="#a04a62" stroke-width="0.7"/>
<circle cx="433.3" cy="257.1" r="1.70" fill="#e3c3cc" stroke="#a04a62" stroke-width="0.7"/>
<circle cx="304" cy="51.1" r="6.60" fill="#994660" stroke="#ffffff" stroke-opacity="0.6" stroke-width="0.7"/><path d="M0,-0.68 L0.58,0.02 L0.45,0.12 L0.17,-0.10 L0.17,0.74 L-0.17,0.74 L-0.17,-0.10 L-0.45,0.12 L-0.58,0.02 Z" fill="#f7f3f5" transform="translate(304 51.1) scale(6.80)"/>
<circle cx="303.9" cy="67.5" r="3.40" fill="#994660" stroke="#ffffff" stroke-opacity="0.6" stroke-width="0.7"/><path d="M0,-0.68 L0.58,0.02 L0.45,0.12 L0.17,-0.10 L0.17,0.74 L-0.17,0.74 L-0.17,-0.10 L-0.45,0.12 L-0.58,0.02 Z" fill="#f7f3f5" transform="translate(303.9 67.5) scale(3.60)"/>
<circle cx="303.7" cy="79.4" r="1.2" fill="#f1f1f4"/>
<circle cx="303.9" cy="90.2" r="2.90" fill="#2b5ea3" stroke="#ffffff" stroke-opacity="0.6" stroke-width="0.7"/><path d="M0,-0.68 L0.58,0.02 L0.45,0.12 L0.17,-0.10 L0.17,0.74 L-0.17,0.74 L-0.17,-0.10 L-0.45,0.12 L-0.58,0.02 Z" fill="#f7f3f5" transform="translate(303.9 90.2) scale(3.10) rotate(180)"/>
<circle cx="303.9" cy="103.2" r="4.30" fill="#2b5ea3" stroke="#ffffff" stroke-opacity="0.6" stroke-width="0.7"/><path d="M0,-0.68 L0.58,0.02 L0.45,0.12 L0.17,-0.10 L0.17,0.74 L-0.17,0.74 L-0.17,-0.10 L-0.45,0.12 L-0.58,0.02 Z" fill="#f7f3f5" transform="translate(303.9 103.2) scale(4.50) rotate(180)"/>
</svg>
</body></html>
